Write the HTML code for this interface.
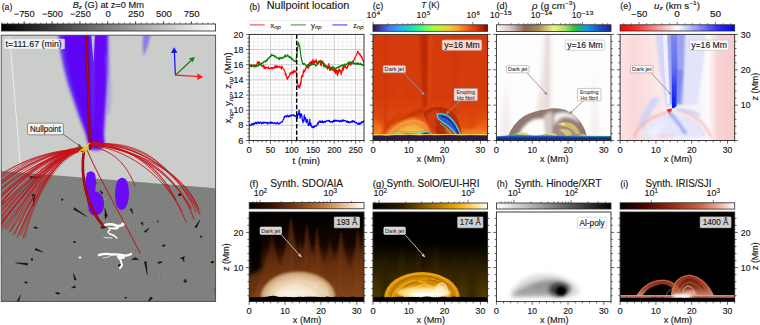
<!DOCTYPE html><html><head><meta charset="utf-8"><style>html,body{margin:0;padding:0;background:#fff;width:760px;height:325px;overflow:hidden}svg{display:block}</style></head><body>
<svg width="760" height="325" viewBox="0 0 760 325" font-family="&apos;Liberation Sans&apos;, sans-serif" style="font-family:&apos;Liberation Sans&apos;, sans-serif">
<defs>
<filter id="b03" filterUnits="userSpaceOnUse" x="0" y="0" width="760" height="325"><feGaussianBlur stdDeviation="0.3"/></filter>
<filter id="b05" filterUnits="userSpaceOnUse" x="0" y="0" width="760" height="325"><feGaussianBlur stdDeviation="0.5"/></filter>
<filter id="b1" filterUnits="userSpaceOnUse" x="0" y="0" width="760" height="325"><feGaussianBlur stdDeviation="1"/></filter>
<filter id="b15" filterUnits="userSpaceOnUse" x="0" y="0" width="760" height="325"><feGaussianBlur stdDeviation="1.5"/></filter>
<filter id="b2" filterUnits="userSpaceOnUse" x="0" y="0" width="760" height="325"><feGaussianBlur stdDeviation="2"/></filter>
<filter id="b3" filterUnits="userSpaceOnUse" x="0" y="0" width="760" height="325"><feGaussianBlur stdDeviation="3"/></filter>
<filter id="b4" filterUnits="userSpaceOnUse" x="0" y="0" width="760" height="325"><feGaussianBlur stdDeviation="4"/></filter>
<filter id="b6" filterUnits="userSpaceOnUse" x="0" y="0" width="760" height="325"><feGaussianBlur stdDeviation="6"/></filter>
</defs>
<text x="1.7" y="9.8" font-size="8.2" text-anchor="start" fill="#1a1a1a" stroke="#1a1a1a" stroke-width="0.15" textLength="10.6" lengthAdjust="spacingAndGlyphs" >(a)</text>
<text x="72.7" y="7.8" font-size="8.2" fill="#1a1a1a" stroke="#1a1a1a" stroke-width="0.15" textLength="71.2" lengthAdjust="spacingAndGlyphs"><tspan font-style="italic">B</tspan><tspan font-size="5.5" font-style="italic" dy="1.5">z</tspan><tspan dy="-1.5"> (G) at z=0 Mm</tspan></text>
<text x="24.2" y="16.8" font-size="9.0" text-anchor="middle" fill="#1a1a1a" stroke="#1a1a1a" stroke-width="0.15" textLength="21.0" lengthAdjust="spacingAndGlyphs" >−750</text>
<text x="52.5" y="16.8" font-size="9.0" text-anchor="middle" fill="#1a1a1a" stroke="#1a1a1a" stroke-width="0.15" textLength="21.0" lengthAdjust="spacingAndGlyphs" >−500</text>
<text x="80.4" y="16.8" font-size="9.0" text-anchor="middle" fill="#1a1a1a" stroke="#1a1a1a" stroke-width="0.15" textLength="21.0" lengthAdjust="spacingAndGlyphs" >−250</text>
<text x="108.2" y="16.8" font-size="9.0" text-anchor="middle" fill="#1a1a1a" stroke="#1a1a1a" stroke-width="0.15" textLength="5.4" lengthAdjust="spacingAndGlyphs" >0</text>
<text x="136.0" y="16.8" font-size="9.0" text-anchor="middle" fill="#1a1a1a" stroke="#1a1a1a" stroke-width="0.15" textLength="16.0" lengthAdjust="spacingAndGlyphs" >250</text>
<text x="163.9" y="16.8" font-size="9.0" text-anchor="middle" fill="#1a1a1a" stroke="#1a1a1a" stroke-width="0.15" textLength="16.0" lengthAdjust="spacingAndGlyphs" >500</text>
<text x="191.7" y="16.8" font-size="9.0" text-anchor="middle" fill="#1a1a1a" stroke="#1a1a1a" stroke-width="0.15" textLength="16.0" lengthAdjust="spacingAndGlyphs" >750</text>
<defs><linearGradient id="cba" x1="0" x2="1" y1="0" y2="0"><stop offset="0" stop-color="#000"/><stop offset="1" stop-color="#fff"/></linearGradient></defs>
<rect x="1.5" y="24.0" width="214.1" height="7.0" fill="url(#cba)" stroke="#262626" stroke-width="0.8"/>
<path d="M24.20,24.0v-3M52.05,24.0v-3M79.90,24.0v-3M107.75,24.0v-3M135.60,24.0v-3M163.45,24.0v-3M191.30,24.0v-3M1.92,24.0v-1.6M7.49,24.0v-1.6M13.06,24.0v-1.6M18.63,24.0v-1.6M24.20,24.0v-1.6M29.77,24.0v-1.6M35.34,24.0v-1.6M40.91,24.0v-1.6M46.48,24.0v-1.6M52.05,24.0v-1.6M57.62,24.0v-1.6M63.19,24.0v-1.6M68.76,24.0v-1.6M74.33,24.0v-1.6M79.90,24.0v-1.6M85.47,24.0v-1.6M91.04,24.0v-1.6M96.61,24.0v-1.6M102.18,24.0v-1.6M107.75,24.0v-1.6M113.32,24.0v-1.6M118.89,24.0v-1.6M124.46,24.0v-1.6M130.03,24.0v-1.6M135.60,24.0v-1.6M141.17,24.0v-1.6M146.74,24.0v-1.6M152.31,24.0v-1.6M157.88,24.0v-1.6M163.45,24.0v-1.6M169.02,24.0v-1.6M174.59,24.0v-1.6M180.16,24.0v-1.6M185.73,24.0v-1.6M191.30,24.0v-1.6M196.87,24.0v-1.6M202.44,24.0v-1.6M208.01,24.0v-1.6M213.58,24.0v-1.6" stroke="#262626" stroke-width="0.6" fill="none"/>
<defs><clipPath id="clipa"><rect x="1.2" y="35.2" width="214.4" height="266.2"/></clipPath></defs>
<g clip-path="url(#clipa)">
<rect x="1" y="35" width="215" height="267" fill="#cacdca"/>
<path d="M9.5,35 L20.5,168" stroke="#efefef" stroke-width="0.9" fill="none"/>
<polygon points="1,171 215.7,188.3 215.7,302 1,302" fill="#7f817e"/>
<defs><clipPath id="clipplane"><polygon points="1,171 215.7,188.3 215.7,302 1,302"/></clipPath></defs>
<g clip-path="url(#clipplane)">
<g stroke="#999a97" stroke-width="2.4" fill="none" opacity="0.3" filter="url(#b05)"><path d="M-30.1,241.0 Q-27.8,249.2 -28.9,259.1"/><path d="M-43.4,281.0 Q-37.4,269.7 -28.9,259.1"/><path d="M39.1,318.0 Q39.9,344.7 41.4,372.0"/><path d="M39.1,318.0 Q34.6,319.9 26.6,319.6"/><path d="M26.6,319.6 Q24.9,333.2 19.8,348.1"/><path d="M41.4,372.0 Q29.6,359.5 19.8,348.1"/><path d="M-25.9,355.7 Q-17.9,350.9 -8.7,347.1"/><path d="M-8.7,347.1 Q-4.8,370.5 -2.8,394.0"/><path d="M16.1,346.9 Q8.0,369.5 -2.8,394.0"/><path d="M16.1,346.9 Q5.1,338.3 -2.8,330.6"/><path d="M-8.7,347.1 Q-4.8,339.1 -2.8,330.8"/><path d="M-2.8,330.8 Q-1.3,332.2 -2.8,330.6"/><path d="M-50.5,353.3 Q-44.4,348.6 -40.4,342.1"/><path d="M-50.5,353.3 Q-38.7,354.7 -25.9,355.7"/><path d="M-18.7,313.4 Q-31.2,326.3 -40.4,342.1"/><path d="M241.3,377.0 Q259.6,360.5 276.5,346.3"/><path d="M-50.0,190.9 Q-33.1,180.7 -17.5,168.8"/><path d="M41.4,372.0 Q43.7,378.8 49.5,387.0"/><path d="M19.8,348.1 Q15.9,348.3 16.1,346.9"/><path d="M39.1,318.0 Q39.4,317.7 40.2,316.2"/><path d="M40.2,316.2 Q47.6,319.0 52.0,320.2"/><path d="M62.8,344.6 Q56.5,332.1 52.0,320.2"/><path d="M62.8,344.6 Q58.8,357.4 57.4,371.6"/><path d="M49.5,387.0 Q55.0,378.8 57.4,371.6"/><path d="M125.8,297.8 Q134.4,305.5 139.2,311.8"/><path d="M139.2,311.8 Q140.7,319.0 141.5,326.1"/><path d="M112.6,319.3 Q110.6,331.3 111.6,340.4"/><path d="M141.5,326.1 Q138.1,337.6 131.0,347.9"/><path d="M131.0,347.9 Q121.8,343.6 111.6,340.4"/><path d="M26.0,282.4 Q27.3,272.2 27.6,264.3"/><path d="M26.0,282.4 Q20.5,292.1 17.3,302.9"/><path d="M27.6,264.3 Q12.9,262.2 -1.4,260.5"/><path d="M-1.4,260.5 Q-7.9,282.8 -11.3,304.8"/><path d="M17.3,302.9 Q7.7,309.8 -5.7,313.6"/><path d="M-5.7,313.6 Q-8.0,310.4 -11.2,304.9"/><path d="M-11.3,304.8 Q-9.7,304.7 -11.2,304.9"/><path d="M40.0,311.1 Q46.6,300.6 51.8,290.6"/><path d="M40.0,311.1 Q31.4,297.7 26.0,282.4"/><path d="M51.8,290.6 Q40.5,276.4 31.9,259.5"/><path d="M31.9,259.5 Q28.6,261.6 27.6,264.3"/><path d="M26.6,319.6 Q20.7,311.1 17.3,302.9"/><path d="M40.2,316.2 Q41.3,313.3 40.0,311.1"/><path d="M-43.4,281.0 Q-27.9,293.3 -11.3,304.8"/><path d="M-28.9,259.1 Q-15.6,257.3 -4.4,254.3"/><path d="M-18.7,313.4 Q-15.5,309.6 -11.2,304.9"/><path d="M51.8,290.6 Q52.9,293.1 57.7,293.3"/><path d="M52.0,320.2 Q56.0,315.3 56.5,309.5"/><path d="M62.8,344.6 Q67.6,335.3 74.2,326.8"/><path d="M56.5,309.5 Q64.1,317.8 74.2,326.8"/><path d="M96.9,342.8 Q89.0,332.3 80.8,320.1"/><path d="M96.9,342.8 Q93.8,349.9 91.3,359.3"/><path d="M91.3,359.3 Q72.6,364.6 57.4,371.6"/><path d="M74.2,326.8 Q75.7,323.9 80.8,320.1"/><path d="M-4.4,254.3 Q-7.3,244.7 -7.3,234.8"/><path d="M-7.3,234.8 Q-15.7,233.8 -21.8,231.0"/><path d="M26.6,171.2 Q28.7,171.0 27.9,172.1"/><path d="M26.6,171.2 Q18.3,170.6 10.5,168.2"/><path d="M27.9,172.1 Q13.5,186.9 -3.9,202.1"/><path d="M10.5,168.2 Q-0.7,168.5 -15.3,170.1"/><path d="M-15.3,170.1 Q-10.9,185.9 -3.9,202.1"/><path d="M28.2,172.2 Q27.5,173.6 27.9,172.1"/><path d="M28.2,172.2 Q43.1,171.0 60.5,171.2"/><path d="M-17.5,168.8 Q-16.8,169.7 -15.3,170.1"/><path d="M120.0,375.6 Q116.7,358.9 111.1,344.4"/><path d="M96.9,342.8 Q103.6,342.8 111.0,341.0"/><path d="M111.0,341.0 Q111.2,342.4 111.1,344.4"/><path d="M130.3,362.9 Q131.3,356.5 131.9,350.7"/><path d="M131.9,350.7 Q140.5,357.0 148.3,364.8"/><path d="M131.0,347.9 Q130.9,348.7 131.9,350.7"/><path d="M111.0,341.0 Q110.5,342.0 111.6,340.4"/><path d="M120.0,375.6 Q123.9,369.1 130.3,362.9"/><path d="M125.8,297.8 Q124.1,281.5 120.2,265.2"/><path d="M139.2,311.8 Q144.4,305.9 151.2,298.1"/><path d="M135.0,258.5 Q127.3,262.9 120.2,265.2"/><path d="M135.0,258.5 Q138.5,259.4 145.3,261.7"/><path d="M151.2,298.1 Q149.9,281.4 145.3,261.7"/><path d="M253.8,268.1 Q252.0,266.3 249.3,262.5"/><path d="M249.3,262.5 Q250.8,239.6 250.9,219.4"/><path d="M57.7,293.3 Q64.5,289.4 75.2,286.5"/><path d="M80.8,320.1 Q81.0,314.9 81.4,307.7"/><path d="M75.2,286.5 Q77.1,298.3 81.4,307.7"/><path d="M112.6,319.3 Q106.2,310.3 100.6,304.0"/><path d="M81.4,307.7 Q89.6,305.6 100.6,304.0"/><path d="M-2.8,218.0 Q-1.8,211.5 -3.9,202.9"/><path d="M-2.9,218.3 Q-20.2,210.0 -38.5,202.2"/><path d="M35.4,249.2 Q32.5,253.1 31.9,259.5"/><path d="M35.4,249.2 Q35.9,237.5 35.5,227.7"/><path d="M33.7,222.3 Q13.8,219.1 -2.8,218.0"/><path d="M-21.8,231.0 Q-29.7,216.6 -38.5,202.2"/><path d="M-50.0,190.9 Q-46.4,196.2 -41.6,198.7"/><path d="M-3.9,202.1 Q-3.2,203.1 -3.9,202.9"/><path d="M141.5,326.1 Q144.4,328.5 148.5,329.7"/><path d="M148.3,364.8 Q150.2,364.0 155.6,363.2"/><path d="M148.5,329.7 Q151.9,346.9 155.6,363.2"/><path d="M151.2,298.1 Q155.7,301.1 163.4,301.9"/><path d="M174.6,323.6 Q171.9,318.8 170.3,314.8"/><path d="M174.6,323.6 Q172.8,327.8 172.2,329.1"/><path d="M170.3,314.8 Q166.3,309.4 163.4,301.9"/><path d="M148.5,329.7 Q161.7,330.3 172.2,329.1"/><path d="M212.3,262.1 Q221.7,257.1 232.5,251.3"/><path d="M212.3,262.1 Q215.3,285.4 217.1,308.3"/><path d="M249.3,262.5 Q240.8,258.2 234.0,251.6"/><path d="M217.1,308.3 Q221.6,315.4 226.9,319.8"/><path d="M232.5,251.3 Q235.1,251.5 234.0,251.6"/><path d="M60.2,195.4 Q46.1,193.8 33.7,195.2"/><path d="M60.2,195.4 Q60.8,189.2 63.8,181.8"/><path d="M62.1,177.3 Q64.1,180.4 63.8,181.8"/><path d="M62.1,177.3 Q44.9,177.0 30.0,177.3"/><path d="M35.5,227.7 Q46.7,226.7 54.7,224.2"/><path d="M33.7,222.3 Q31.8,209.6 33.7,195.2"/><path d="M54.7,224.2 Q60.3,212.3 62.4,200.2"/><path d="M62.4,200.2 Q62.2,196.8 60.2,195.4"/><path d="M62.4,200.2 Q67.1,204.8 74.0,207.9"/><path d="M79.7,186.9 Q78.7,197.4 74.0,207.9"/><path d="M79.7,186.9 Q72.4,183.4 63.8,181.8"/><path d="M28.2,172.2 Q30.3,173.5 30.0,177.3"/><path d="M63.6,172.0 Q62.0,175.5 62.1,177.3"/><path d="M103.4,232.4 Q104.5,229.6 103.5,227.2"/><path d="M103.5,227.2 Q89.9,217.0 74.1,208.5"/><path d="M74.1,208.5 Q71.8,219.6 68.6,228.6"/><path d="M74.5,242.1 Q73.3,235.8 68.6,228.6"/><path d="M54.7,224.2 Q63.3,225.7 68.6,228.6"/><path d="M74.0,207.9 Q72.2,208.2 74.1,208.5"/><path d="M35.4,249.2 Q51.4,254.8 70.2,262.7"/><path d="M70.2,262.7 Q72.5,252.5 74.5,242.1"/><path d="M140.8,186.8 Q130.5,184.8 116.8,180.7"/><path d="M131.0,209.0 Q119.4,213.4 106.1,215.4"/><path d="M106.1,215.4 Q102.9,205.8 102.2,193.6"/><path d="M140.8,186.8 Q141.7,186.4 143.4,184.1"/><path d="M143.4,184.1 Q143.6,182.2 144.8,181.2"/><path d="M86.9,179.7 Q90.2,180.7 96.1,183.3"/><path d="M86.9,179.7 Q83.3,175.2 77.8,172.4"/><path d="M77.8,172.4 Q79.3,171.0 78.7,171.5"/><path d="M99.4,176.5 Q97.5,181.0 96.1,183.3"/><path d="M106.1,215.4 Q105.2,222.4 103.5,227.2"/><path d="M79.7,186.9 Q84.6,184.5 86.9,179.7"/><path d="M102.2,193.6 Q100.6,187.3 96.1,183.3"/><path d="M63.6,172.0 Q71.8,172.7 77.8,172.4"/><path d="M158.0,221.2 Q151.4,201.6 143.4,184.1"/><path d="M180.9,215.3 Q173.6,223.4 165.8,229.7"/><path d="M180.9,215.3 Q180.2,205.0 179.7,194.7"/><path d="M179.7,194.7 Q172.0,188.1 162.5,181.4"/><path d="M75.3,279.8 Q90.0,263.2 107.8,246.1"/><path d="M75.3,279.8 Q73.5,283.2 75.5,284.2"/><path d="M75.5,284.2 Q89.5,281.9 105.7,281.1"/><path d="M118.9,264.4 Q115.4,256.3 107.8,246.1"/><path d="M70.2,262.7 Q73.4,272.3 75.3,279.8"/><path d="M103.4,232.4 Q106.5,240.5 107.8,246.1"/><path d="M75.2,286.5 Q73.7,285.1 75.5,284.2"/><path d="M100.6,304.0 Q102.5,291.8 105.7,281.1"/><path d="M120.2,265.2 Q119.4,265.6 118.9,264.4"/><path d="M131.0,209.0 Q133.7,216.2 135.2,221.3"/><path d="M135.2,221.3 Q136.1,237.4 135.3,253.4"/><path d="M154.7,222.2 Q151.6,228.5 145.1,232.0"/><path d="M154.7,222.2 Q146.7,223.0 141.8,222.6"/><path d="M141.8,222.6 Q144.7,228.6 145.1,232.0"/><path d="M158.0,221.2 Q156.8,221.7 154.7,222.2"/><path d="M135.3,253.4 Q140.6,241.3 145.1,232.0"/><path d="M176.5,282.1 Q175.3,281.3 172.9,281.8"/><path d="M185.2,281.4 Q185.8,279.8 185.5,279.8"/><path d="M185.5,279.8 Q172.9,266.5 160.9,252.0"/><path d="M160.0,262.4 Q158.3,259.0 157.9,256.7"/><path d="M157.9,256.7 Q158.6,254.5 160.9,252.0"/><path d="M170.3,314.8 Q175.3,297.1 176.5,282.1"/><path d="M163.4,301.9 Q163.4,302.8 163.6,300.7"/><path d="M174.6,323.6 Q181.4,320.2 185.2,319.1"/><path d="M191.1,311.0 Q187.0,314.2 185.2,319.1"/><path d="M191.1,311.0 Q188.0,296.8 185.2,281.4"/><path d="M191.1,311.0 Q204.1,309.3 217.1,308.3"/><path d="M188.0,273.3 Q198.2,268.4 210.9,260.8"/><path d="M188.0,273.3 Q185.0,278.0 185.5,279.8"/><path d="M163.8,245.6 Q174.5,251.8 182.7,257.7"/><path d="M163.8,245.6 Q162.4,249.2 160.9,252.0"/><path d="M188.0,273.3 Q187.1,265.7 182.7,257.7"/><path d="M163.6,300.7 Q159.9,280.1 160.0,262.4"/><path d="M145.3,261.7 Q153.3,260.3 157.9,256.7"/><path d="M165.8,229.7 Q166.3,238.2 163.8,245.6"/><path d="M241.3,377.0 Q239.6,378.8 236.2,378.3"/><path d="M276.5,346.3 Q256.2,337.6 233.6,326.7"/><path d="M236.2,378.3 Q236.0,353.3 233.6,326.7"/><path d="M185.2,319.1 Q189.9,328.8 194.5,341.5"/><path d="M194.5,341.5 Q205.4,347.2 213.6,352.4"/><path d="M226.9,319.8 Q226.6,320.6 227.0,320.1"/><path d="M213.6,352.4 Q220.5,337.5 227.0,320.1"/><path d="M233.6,326.7 Q231.8,322.4 227.0,320.1"/><path d="M171.9,340.8 Q168.9,346.4 168.7,351.2"/><path d="M171.9,340.8 Q177.0,347.0 183.6,355.2"/><path d="M168.7,351.2 Q172.8,361.9 177.4,369.8"/><path d="M183.6,355.2 Q182.7,363.1 182.3,370.1"/><path d="M194.5,341.5 Q191.2,350.7 191.7,358.4"/><path d="M172.2,329.1 Q172.9,336.1 171.9,340.8"/><path d="M191.7,358.4 Q186.8,356.4 183.6,355.2"/><path d="M191.7,358.4 Q193.7,359.7 192.2,359.4"/><path d="M192.2,359.4 Q190.1,366.0 185.9,373.4"/><path d="M185.9,373.4 Q185.0,371.9 182.3,370.1"/><path d="M157.0,363.6 Q158.8,363.2 160.8,361.8"/><path d="M160.8,361.8 Q166.2,373.3 173.1,384.7"/><path d="M155.6,363.2 Q155.6,364.3 157.0,363.6"/><path d="M168.7,351.2 Q164.5,357.3 160.8,361.8"/><path d="M177.4,369.8 Q174.6,376.5 173.1,384.7"/><path d="M232.5,251.3 Q228.8,236.4 223.6,219.6"/><path d="M223.6,219.6 Q213.6,228.6 201.5,237.1"/><path d="M191.2,184.2 Q192.7,182.0 195.8,182.0"/><path d="M191.2,184.2 Q200.1,194.2 208.0,205.1"/><path d="M195.8,182.0 Q206.4,188.1 220.8,196.9"/><path d="M180.9,215.3 Q189.1,221.3 195.6,227.5"/><path d="M208.0,205.1 Q201.1,217.2 195.6,227.5"/><path d="M182.7,257.7 Q190.2,244.8 196.8,230.3"/><path d="M201.5,237.1 Q200.5,233.6 196.8,230.3"/><path d="M247.5,215.0 Q243.3,216.0 241.1,217.8"/><path d="M241.1,217.8 Q232.0,210.3 224.6,205.5"/><path d="M222.2,196.9 Q224.2,200.7 224.6,205.5"/><path d="M250.9,219.4 Q250.3,218.6 247.5,215.0"/><path d="M234.0,251.6 Q238.0,235.7 241.1,217.8"/><path d="M223.6,219.6 Q222.8,211.3 224.6,205.5"/><path d="M220.8,196.9 Q223.1,196.8 222.2,196.9"/><path d="M195.9,181.6 Q181.7,179.6 166.9,178.3"/><path d="M162.5,181.4 Q164.1,180.6 166.9,178.3"/><path d="M195.8,182.0 Q197.1,181.5 195.9,181.6"/><path d="M194.9,361.9 Q193.0,378.5 192.9,397.4"/><path d="M194.9,361.9 Q205.3,364.7 212.4,365.7"/><path d="M212.4,365.7 Q217.2,385.8 218.9,403.1"/><path d="M192.2,359.4 Q192.0,360.5 194.9,361.9"/><path d="M185.9,373.4 Q188.8,384.4 192.9,397.4"/><path d="M236.2,378.3 Q225.7,390.0 218.9,403.1"/></g>
<g stroke="#5e605d" stroke-width="0.8" fill="none" opacity="0.45" filter="url(#b03)"><path d="M-30.1,241.0 Q-27.8,249.2 -28.9,259.1"/><path d="M-43.4,281.0 Q-37.4,269.7 -28.9,259.1"/><path d="M39.1,318.0 Q39.9,344.7 41.4,372.0"/><path d="M39.1,318.0 Q34.6,319.9 26.6,319.6"/><path d="M26.6,319.6 Q24.9,333.2 19.8,348.1"/><path d="M41.4,372.0 Q29.6,359.5 19.8,348.1"/><path d="M-25.9,355.7 Q-17.9,350.9 -8.7,347.1"/><path d="M-8.7,347.1 Q-4.8,370.5 -2.8,394.0"/><path d="M16.1,346.9 Q8.0,369.5 -2.8,394.0"/><path d="M16.1,346.9 Q5.1,338.3 -2.8,330.6"/><path d="M-8.7,347.1 Q-4.8,339.1 -2.8,330.8"/><path d="M-2.8,330.8 Q-1.3,332.2 -2.8,330.6"/><path d="M-50.5,353.3 Q-44.4,348.6 -40.4,342.1"/><path d="M-50.5,353.3 Q-38.7,354.7 -25.9,355.7"/><path d="M-18.7,313.4 Q-31.2,326.3 -40.4,342.1"/><path d="M241.3,377.0 Q259.6,360.5 276.5,346.3"/><path d="M-50.0,190.9 Q-33.1,180.7 -17.5,168.8"/><path d="M41.4,372.0 Q43.7,378.8 49.5,387.0"/><path d="M19.8,348.1 Q15.9,348.3 16.1,346.9"/><path d="M39.1,318.0 Q39.4,317.7 40.2,316.2"/><path d="M40.2,316.2 Q47.6,319.0 52.0,320.2"/><path d="M62.8,344.6 Q56.5,332.1 52.0,320.2"/><path d="M62.8,344.6 Q58.8,357.4 57.4,371.6"/><path d="M49.5,387.0 Q55.0,378.8 57.4,371.6"/><path d="M125.8,297.8 Q134.4,305.5 139.2,311.8"/><path d="M139.2,311.8 Q140.7,319.0 141.5,326.1"/><path d="M112.6,319.3 Q110.6,331.3 111.6,340.4"/><path d="M141.5,326.1 Q138.1,337.6 131.0,347.9"/><path d="M131.0,347.9 Q121.8,343.6 111.6,340.4"/><path d="M26.0,282.4 Q27.3,272.2 27.6,264.3"/><path d="M26.0,282.4 Q20.5,292.1 17.3,302.9"/><path d="M27.6,264.3 Q12.9,262.2 -1.4,260.5"/><path d="M-1.4,260.5 Q-7.9,282.8 -11.3,304.8"/><path d="M17.3,302.9 Q7.7,309.8 -5.7,313.6"/><path d="M-5.7,313.6 Q-8.0,310.4 -11.2,304.9"/><path d="M-11.3,304.8 Q-9.7,304.7 -11.2,304.9"/><path d="M40.0,311.1 Q46.6,300.6 51.8,290.6"/><path d="M40.0,311.1 Q31.4,297.7 26.0,282.4"/><path d="M51.8,290.6 Q40.5,276.4 31.9,259.5"/><path d="M31.9,259.5 Q28.6,261.6 27.6,264.3"/><path d="M26.6,319.6 Q20.7,311.1 17.3,302.9"/><path d="M40.2,316.2 Q41.3,313.3 40.0,311.1"/><path d="M-43.4,281.0 Q-27.9,293.3 -11.3,304.8"/><path d="M-28.9,259.1 Q-15.6,257.3 -4.4,254.3"/><path d="M-18.7,313.4 Q-15.5,309.6 -11.2,304.9"/><path d="M51.8,290.6 Q52.9,293.1 57.7,293.3"/><path d="M52.0,320.2 Q56.0,315.3 56.5,309.5"/><path d="M62.8,344.6 Q67.6,335.3 74.2,326.8"/><path d="M56.5,309.5 Q64.1,317.8 74.2,326.8"/><path d="M96.9,342.8 Q89.0,332.3 80.8,320.1"/><path d="M96.9,342.8 Q93.8,349.9 91.3,359.3"/><path d="M91.3,359.3 Q72.6,364.6 57.4,371.6"/><path d="M74.2,326.8 Q75.7,323.9 80.8,320.1"/><path d="M-4.4,254.3 Q-7.3,244.7 -7.3,234.8"/><path d="M-7.3,234.8 Q-15.7,233.8 -21.8,231.0"/><path d="M26.6,171.2 Q28.7,171.0 27.9,172.1"/><path d="M26.6,171.2 Q18.3,170.6 10.5,168.2"/><path d="M27.9,172.1 Q13.5,186.9 -3.9,202.1"/><path d="M10.5,168.2 Q-0.7,168.5 -15.3,170.1"/><path d="M-15.3,170.1 Q-10.9,185.9 -3.9,202.1"/><path d="M28.2,172.2 Q27.5,173.6 27.9,172.1"/><path d="M28.2,172.2 Q43.1,171.0 60.5,171.2"/><path d="M-17.5,168.8 Q-16.8,169.7 -15.3,170.1"/><path d="M120.0,375.6 Q116.7,358.9 111.1,344.4"/><path d="M96.9,342.8 Q103.6,342.8 111.0,341.0"/><path d="M111.0,341.0 Q111.2,342.4 111.1,344.4"/><path d="M130.3,362.9 Q131.3,356.5 131.9,350.7"/><path d="M131.9,350.7 Q140.5,357.0 148.3,364.8"/><path d="M131.0,347.9 Q130.9,348.7 131.9,350.7"/><path d="M111.0,341.0 Q110.5,342.0 111.6,340.4"/><path d="M120.0,375.6 Q123.9,369.1 130.3,362.9"/><path d="M125.8,297.8 Q124.1,281.5 120.2,265.2"/><path d="M139.2,311.8 Q144.4,305.9 151.2,298.1"/><path d="M135.0,258.5 Q127.3,262.9 120.2,265.2"/><path d="M135.0,258.5 Q138.5,259.4 145.3,261.7"/><path d="M151.2,298.1 Q149.9,281.4 145.3,261.7"/><path d="M253.8,268.1 Q252.0,266.3 249.3,262.5"/><path d="M249.3,262.5 Q250.8,239.6 250.9,219.4"/><path d="M57.7,293.3 Q64.5,289.4 75.2,286.5"/><path d="M80.8,320.1 Q81.0,314.9 81.4,307.7"/><path d="M75.2,286.5 Q77.1,298.3 81.4,307.7"/><path d="M112.6,319.3 Q106.2,310.3 100.6,304.0"/><path d="M81.4,307.7 Q89.6,305.6 100.6,304.0"/><path d="M-2.8,218.0 Q-1.8,211.5 -3.9,202.9"/><path d="M-2.9,218.3 Q-20.2,210.0 -38.5,202.2"/><path d="M35.4,249.2 Q32.5,253.1 31.9,259.5"/><path d="M35.4,249.2 Q35.9,237.5 35.5,227.7"/><path d="M33.7,222.3 Q13.8,219.1 -2.8,218.0"/><path d="M-21.8,231.0 Q-29.7,216.6 -38.5,202.2"/><path d="M-50.0,190.9 Q-46.4,196.2 -41.6,198.7"/><path d="M-3.9,202.1 Q-3.2,203.1 -3.9,202.9"/><path d="M141.5,326.1 Q144.4,328.5 148.5,329.7"/><path d="M148.3,364.8 Q150.2,364.0 155.6,363.2"/><path d="M148.5,329.7 Q151.9,346.9 155.6,363.2"/><path d="M151.2,298.1 Q155.7,301.1 163.4,301.9"/><path d="M174.6,323.6 Q171.9,318.8 170.3,314.8"/><path d="M174.6,323.6 Q172.8,327.8 172.2,329.1"/><path d="M170.3,314.8 Q166.3,309.4 163.4,301.9"/><path d="M148.5,329.7 Q161.7,330.3 172.2,329.1"/><path d="M212.3,262.1 Q221.7,257.1 232.5,251.3"/><path d="M212.3,262.1 Q215.3,285.4 217.1,308.3"/><path d="M249.3,262.5 Q240.8,258.2 234.0,251.6"/><path d="M217.1,308.3 Q221.6,315.4 226.9,319.8"/><path d="M232.5,251.3 Q235.1,251.5 234.0,251.6"/><path d="M60.2,195.4 Q46.1,193.8 33.7,195.2"/><path d="M60.2,195.4 Q60.8,189.2 63.8,181.8"/><path d="M62.1,177.3 Q64.1,180.4 63.8,181.8"/><path d="M62.1,177.3 Q44.9,177.0 30.0,177.3"/><path d="M35.5,227.7 Q46.7,226.7 54.7,224.2"/><path d="M33.7,222.3 Q31.8,209.6 33.7,195.2"/><path d="M54.7,224.2 Q60.3,212.3 62.4,200.2"/><path d="M62.4,200.2 Q62.2,196.8 60.2,195.4"/><path d="M62.4,200.2 Q67.1,204.8 74.0,207.9"/><path d="M79.7,186.9 Q78.7,197.4 74.0,207.9"/><path d="M79.7,186.9 Q72.4,183.4 63.8,181.8"/><path d="M28.2,172.2 Q30.3,173.5 30.0,177.3"/><path d="M63.6,172.0 Q62.0,175.5 62.1,177.3"/><path d="M103.4,232.4 Q104.5,229.6 103.5,227.2"/><path d="M103.5,227.2 Q89.9,217.0 74.1,208.5"/><path d="M74.1,208.5 Q71.8,219.6 68.6,228.6"/><path d="M74.5,242.1 Q73.3,235.8 68.6,228.6"/><path d="M54.7,224.2 Q63.3,225.7 68.6,228.6"/><path d="M74.0,207.9 Q72.2,208.2 74.1,208.5"/><path d="M35.4,249.2 Q51.4,254.8 70.2,262.7"/><path d="M70.2,262.7 Q72.5,252.5 74.5,242.1"/><path d="M140.8,186.8 Q130.5,184.8 116.8,180.7"/><path d="M131.0,209.0 Q119.4,213.4 106.1,215.4"/><path d="M106.1,215.4 Q102.9,205.8 102.2,193.6"/><path d="M140.8,186.8 Q141.7,186.4 143.4,184.1"/><path d="M143.4,184.1 Q143.6,182.2 144.8,181.2"/><path d="M86.9,179.7 Q90.2,180.7 96.1,183.3"/><path d="M86.9,179.7 Q83.3,175.2 77.8,172.4"/><path d="M77.8,172.4 Q79.3,171.0 78.7,171.5"/><path d="M99.4,176.5 Q97.5,181.0 96.1,183.3"/><path d="M106.1,215.4 Q105.2,222.4 103.5,227.2"/><path d="M79.7,186.9 Q84.6,184.5 86.9,179.7"/><path d="M102.2,193.6 Q100.6,187.3 96.1,183.3"/><path d="M63.6,172.0 Q71.8,172.7 77.8,172.4"/><path d="M158.0,221.2 Q151.4,201.6 143.4,184.1"/><path d="M180.9,215.3 Q173.6,223.4 165.8,229.7"/><path d="M180.9,215.3 Q180.2,205.0 179.7,194.7"/><path d="M179.7,194.7 Q172.0,188.1 162.5,181.4"/><path d="M75.3,279.8 Q90.0,263.2 107.8,246.1"/><path d="M75.3,279.8 Q73.5,283.2 75.5,284.2"/><path d="M75.5,284.2 Q89.5,281.9 105.7,281.1"/><path d="M118.9,264.4 Q115.4,256.3 107.8,246.1"/><path d="M70.2,262.7 Q73.4,272.3 75.3,279.8"/><path d="M103.4,232.4 Q106.5,240.5 107.8,246.1"/><path d="M75.2,286.5 Q73.7,285.1 75.5,284.2"/><path d="M100.6,304.0 Q102.5,291.8 105.7,281.1"/><path d="M120.2,265.2 Q119.4,265.6 118.9,264.4"/><path d="M131.0,209.0 Q133.7,216.2 135.2,221.3"/><path d="M135.2,221.3 Q136.1,237.4 135.3,253.4"/><path d="M154.7,222.2 Q151.6,228.5 145.1,232.0"/><path d="M154.7,222.2 Q146.7,223.0 141.8,222.6"/><path d="M141.8,222.6 Q144.7,228.6 145.1,232.0"/><path d="M158.0,221.2 Q156.8,221.7 154.7,222.2"/><path d="M135.3,253.4 Q140.6,241.3 145.1,232.0"/><path d="M176.5,282.1 Q175.3,281.3 172.9,281.8"/><path d="M185.2,281.4 Q185.8,279.8 185.5,279.8"/><path d="M185.5,279.8 Q172.9,266.5 160.9,252.0"/><path d="M160.0,262.4 Q158.3,259.0 157.9,256.7"/><path d="M157.9,256.7 Q158.6,254.5 160.9,252.0"/><path d="M170.3,314.8 Q175.3,297.1 176.5,282.1"/><path d="M163.4,301.9 Q163.4,302.8 163.6,300.7"/><path d="M174.6,323.6 Q181.4,320.2 185.2,319.1"/><path d="M191.1,311.0 Q187.0,314.2 185.2,319.1"/><path d="M191.1,311.0 Q188.0,296.8 185.2,281.4"/><path d="M191.1,311.0 Q204.1,309.3 217.1,308.3"/><path d="M188.0,273.3 Q198.2,268.4 210.9,260.8"/><path d="M188.0,273.3 Q185.0,278.0 185.5,279.8"/><path d="M163.8,245.6 Q174.5,251.8 182.7,257.7"/><path d="M163.8,245.6 Q162.4,249.2 160.9,252.0"/><path d="M188.0,273.3 Q187.1,265.7 182.7,257.7"/><path d="M163.6,300.7 Q159.9,280.1 160.0,262.4"/><path d="M145.3,261.7 Q153.3,260.3 157.9,256.7"/><path d="M165.8,229.7 Q166.3,238.2 163.8,245.6"/><path d="M241.3,377.0 Q239.6,378.8 236.2,378.3"/><path d="M276.5,346.3 Q256.2,337.6 233.6,326.7"/><path d="M236.2,378.3 Q236.0,353.3 233.6,326.7"/><path d="M185.2,319.1 Q189.9,328.8 194.5,341.5"/><path d="M194.5,341.5 Q205.4,347.2 213.6,352.4"/><path d="M226.9,319.8 Q226.6,320.6 227.0,320.1"/><path d="M213.6,352.4 Q220.5,337.5 227.0,320.1"/><path d="M233.6,326.7 Q231.8,322.4 227.0,320.1"/><path d="M171.9,340.8 Q168.9,346.4 168.7,351.2"/><path d="M171.9,340.8 Q177.0,347.0 183.6,355.2"/><path d="M168.7,351.2 Q172.8,361.9 177.4,369.8"/><path d="M183.6,355.2 Q182.7,363.1 182.3,370.1"/><path d="M194.5,341.5 Q191.2,350.7 191.7,358.4"/><path d="M172.2,329.1 Q172.9,336.1 171.9,340.8"/><path d="M191.7,358.4 Q186.8,356.4 183.6,355.2"/><path d="M191.7,358.4 Q193.7,359.7 192.2,359.4"/><path d="M192.2,359.4 Q190.1,366.0 185.9,373.4"/><path d="M185.9,373.4 Q185.0,371.9 182.3,370.1"/><path d="M157.0,363.6 Q158.8,363.2 160.8,361.8"/><path d="M160.8,361.8 Q166.2,373.3 173.1,384.7"/><path d="M155.6,363.2 Q155.6,364.3 157.0,363.6"/><path d="M168.7,351.2 Q164.5,357.3 160.8,361.8"/><path d="M177.4,369.8 Q174.6,376.5 173.1,384.7"/><path d="M232.5,251.3 Q228.8,236.4 223.6,219.6"/><path d="M223.6,219.6 Q213.6,228.6 201.5,237.1"/><path d="M191.2,184.2 Q192.7,182.0 195.8,182.0"/><path d="M191.2,184.2 Q200.1,194.2 208.0,205.1"/><path d="M195.8,182.0 Q206.4,188.1 220.8,196.9"/><path d="M180.9,215.3 Q189.1,221.3 195.6,227.5"/><path d="M208.0,205.1 Q201.1,217.2 195.6,227.5"/><path d="M182.7,257.7 Q190.2,244.8 196.8,230.3"/><path d="M201.5,237.1 Q200.5,233.6 196.8,230.3"/><path d="M247.5,215.0 Q243.3,216.0 241.1,217.8"/><path d="M241.1,217.8 Q232.0,210.3 224.6,205.5"/><path d="M222.2,196.9 Q224.2,200.7 224.6,205.5"/><path d="M250.9,219.4 Q250.3,218.6 247.5,215.0"/><path d="M234.0,251.6 Q238.0,235.7 241.1,217.8"/><path d="M223.6,219.6 Q222.8,211.3 224.6,205.5"/><path d="M220.8,196.9 Q223.1,196.8 222.2,196.9"/><path d="M195.9,181.6 Q181.7,179.6 166.9,178.3"/><path d="M162.5,181.4 Q164.1,180.6 166.9,178.3"/><path d="M195.8,182.0 Q197.1,181.5 195.9,181.6"/><path d="M194.9,361.9 Q193.0,378.5 192.9,397.4"/><path d="M194.9,361.9 Q205.3,364.7 212.4,365.7"/><path d="M212.4,365.7 Q217.2,385.8 218.9,403.1"/><path d="M192.2,359.4 Q192.0,360.5 194.9,361.9"/><path d="M185.9,373.4 Q188.8,384.4 192.9,397.4"/><path d="M236.2,378.3 Q225.7,390.0 218.9,403.1"/></g>
<g fill="#141414" stroke="#141414" stroke-width="0.4" filter="url(#b03)"><path d="M-1.8,394.3 L3.7,377.9 L-3.7,393.6z"/><path d="M-1.9,331.2 L-2.8,330.7 L-3.8,330.4z"/><path d="M-49.4,191.7 L-39.3,183.6 L-50.5,190.0z"/><path d="M52.3,319.3 L49.1,319.3 L51.6,321.2z"/><path d="M138.2,312.0 L140.0,317.1 L140.2,311.6z"/><path d="M111.6,319.2 L112.3,326.8 L113.6,319.3z"/><path d="M140.6,325.7 L138.7,331.8 L142.4,326.6z"/><path d="M131.4,347.0 L122.8,344.8 L130.6,348.9z"/><path d="M18.2,303.3 L20.7,294.8 L16.3,302.5z"/><path d="M27.7,263.3 L15.6,262.8 L27.4,265.3z"/><path d="M-2.4,260.3 L-5.8,280.0 L-0.5,260.8z"/><path d="M-5.2,314.5 L3.3,309.4 L-6.1,312.7z"/><path d="M40.9,311.6 L42.8,306.2 L39.2,310.6z"/><path d="M-44.0,281.9 L-29.7,291.1 L-42.8,280.2z"/><path d="M-17.9,314.1 L-16.2,310.6 L-19.4,312.8z"/><path d="M58.1,292.4 L56.3,292.7 L57.3,294.2z"/><path d="M55.6,309.1 L55.2,312.6 L57.5,309.9z"/><path d="M63.6,345.1 L65.7,340.0 L62.0,344.0z"/><path d="M97.7,342.2 L89.8,332.8 L96.1,343.4z"/><path d="M96.0,342.5 L94.4,350.0 L97.9,343.1z"/><path d="M121.0,375.3 L117.5,366.6 L119.0,375.8z"/><path d="M110.9,340.0 L107.2,341.5 L111.2,342.0z"/><path d="M131.3,351.5 L137.6,355.6 L132.6,350.0z"/><path d="M132.9,350.4 L131.6,349.8 L131.0,351.0z"/><path d="M110.9,339.7 L111.4,340.6 L112.3,341.2z"/><path d="M150.5,297.4 L147.0,302.8 L152.0,298.8z"/><path d="M134.6,257.6 L131.5,260.0 L135.4,259.4z"/><path d="M134.7,259.4 L138.9,259.7 L135.3,257.5z"/><path d="M144.3,261.9 L147.3,274.4 L146.3,261.6z"/><path d="M249.9,219.3 L250.3,235.6 L251.9,219.4z"/><path d="M74.8,285.6 L71.5,288.0 L75.5,287.5z"/><path d="M156.6,363.0 L152.8,349.9 L154.7,363.4z"/><path d="M173.7,323.2 L173.9,325.2 L175.5,323.9z"/><path d="M171.2,314.3 L168.0,310.6 L169.4,315.3z"/><path d="M218.1,308.2 L215.0,288.3 L216.1,308.4z"/><path d="M30.0,178.3 L41.4,177.3 L30.0,176.3z"/><path d="M32.7,195.2 L33.7,205.8 L34.7,195.2z"/><path d="M63.3,199.7 L61.6,198.3 L61.5,200.6z"/><path d="M73.6,209.4 L86.7,216.5 L74.6,207.7z"/><path d="M35.0,250.1 L43.1,252.2 L35.8,248.2z"/><path d="M107.1,215.3 L104.8,208.3 L105.1,215.6z"/><path d="M143.9,180.8 L144.4,182.1 L145.7,181.6z"/><path d="M96.5,182.4 L92.5,181.9 L95.7,184.2z"/><path d="M105.1,215.2 L105.2,219.2 L107.0,215.7z"/><path d="M103.1,193.1 L100.0,189.9 L101.4,194.1z"/><path d="M161.9,182.2 L168.5,186.0 L163.1,180.6z"/><path d="M76.3,279.5 L73.3,273.2 L74.4,280.1z"/><path d="M130.0,209.3 L132.7,214.1 L131.9,208.7z"/><path d="M145.8,232.7 L149.0,228.1 L144.4,231.3z"/><path d="M140.9,222.9 L142.8,225.4 L142.8,222.3z"/><path d="M157.7,220.2 L157.3,221.4 L158.3,222.2z"/><path d="M184.5,279.6 L185.4,280.2 L186.5,279.9z"/><path d="M181.8,258.1 L184.2,262.0 L183.7,257.4z"/><path d="M276.9,345.4 L260.2,338.8 L276.1,347.2z"/><path d="M195.4,341.1 L191.7,334.7 L193.5,341.9z"/><path d="M194.0,342.4 L199.7,344.5 L195.0,340.6z"/><path d="M226.0,320.1 L226.9,319.9 L227.9,319.5z"/><path d="M234.3,326.0 L231.3,324.4 L232.9,327.4z"/><path d="M170.9,340.5 L170.7,344.6 L172.8,341.1z"/><path d="M182.6,355.1 L183.1,360.6 L184.6,355.3z"/><path d="M171.2,329.1 L172.1,333.3 L173.2,329.2z"/><path d="M190.8,358.7 L191.8,358.6 L192.7,358.0z"/><path d="M160.3,360.9 L159.3,362.5 L161.2,362.7z"/><path d="M174.0,384.3 L170.1,379.2 L172.2,385.2z"/><path d="M167.9,350.6 L166.5,354.1 L169.5,351.8z"/><path d="M223.0,218.8 L216.5,225.3 L224.3,220.4z"/><path d="M191.7,185.1 L193.2,183.3 L190.8,183.3z"/><path d="M196.5,228.0 L199.9,219.9 L194.8,227.0z"/><path d="M202.3,236.6 L200.5,235.7 L200.7,237.7z"/><path d="M241.7,217.0 L237.0,214.8 L240.5,218.6z"/><path d="M251.7,218.8 L249.7,217.9 L250.1,220.0z"/><path d="M166.3,177.5 L165.1,179.6 L167.5,179.1z"/></g>
<g fill="#121212" filter="url(#b03)"><ellipse cx="39.1" cy="318.0" rx="2.5" ry="0.9" transform="rotate(21 39.1 318.0)"/><ellipse cx="125.8" cy="297.8" rx="1.3" ry="0.7" transform="rotate(2 125.8 297.8)"/><ellipse cx="40.0" cy="311.1" rx="1.3" ry="0.8" transform="rotate(2 40.0 311.1)"/><ellipse cx="31.9" cy="259.5" rx="1.2" ry="1.2" transform="rotate(-2 31.9 259.5)"/><ellipse cx="212.3" cy="262.1" rx="1.7" ry="1.2" transform="rotate(-5 212.3 262.1)"/><ellipse cx="26.0" cy="282.4" rx="1.7" ry="1.0" transform="rotate(3 26.0 282.4)"/><ellipse cx="17.3" cy="302.9" rx="2.1" ry="1.2" transform="rotate(-18 17.3 302.9)"/><ellipse cx="57.7" cy="293.3" rx="2.5" ry="0.7" transform="rotate(10 57.7 293.3)"/><ellipse cx="-7.3" cy="234.8" rx="2.7" ry="1.2" transform="rotate(13 -7.3 234.8)"/><ellipse cx="120.2" cy="265.2" rx="2.3" ry="1.2" transform="rotate(-5 120.2 265.2)"/><ellipse cx="151.2" cy="298.1" rx="1.7" ry="0.9" transform="rotate(23 151.2 298.1)"/><ellipse cx="35.5" cy="227.7" rx="2.2" ry="0.9" transform="rotate(11 35.5 227.7)"/><ellipse cx="106.1" cy="215.4" rx="1.5" ry="0.8" transform="rotate(12 106.1 215.4)"/><ellipse cx="81.4" cy="307.7" rx="2.7" ry="1.2" transform="rotate(-3 81.4 307.7)"/><ellipse cx="191.1" cy="311.0" rx="2.9" ry="0.9" transform="rotate(11 191.1 311.0)"/><ellipse cx="163.8" cy="245.6" rx="1.8" ry="1.0" transform="rotate(-15 163.8 245.6)"/><ellipse cx="172.2" cy="329.1" rx="1.5" ry="0.7" transform="rotate(-12 172.2 329.1)"/><ellipse cx="33.7" cy="195.2" rx="2.4" ry="0.9" transform="rotate(16 33.7 195.2)"/><ellipse cx="103.5" cy="227.2" rx="3.0" ry="1.2" transform="rotate(-9 103.5 227.2)"/><ellipse cx="74.5" cy="242.1" rx="1.6" ry="0.8" transform="rotate(18 74.5 242.1)"/><ellipse cx="179.7" cy="194.7" rx="1.5" ry="1.3" transform="rotate(-0 179.7 194.7)"/><ellipse cx="182.7" cy="257.7" rx="2.8" ry="0.7" transform="rotate(-22 182.7 257.7)"/><ellipse cx="185.2" cy="281.4" rx="1.7" ry="1.2" transform="rotate(5 185.2 281.4)"/><ellipse cx="160.0" cy="262.4" rx="2.6" ry="0.8" transform="rotate(-12 160.0 262.4)"/><ellipse cx="220.8" cy="196.9" rx="2.4" ry="0.9" transform="rotate(-2 220.8 196.9)"/></g>
</g>
<g fill="none" stroke="#fcfcfc" stroke-linecap="round" stroke-linejoin="round" filter="url(#b03)"><path d="M104,225.5 Q110,223 116,225.5 Q120,227 124,224" stroke-width="2.6"/><path d="M109,228 Q113,229 118,228" stroke-width="1.8"/><path d="M110,230 Q106,232 110,234 Q114,235 117,238" stroke-width="1.4"/><path d="M104,237.5 L112,238" stroke-width="1.0" opacity="0.8"/><path d="M99,255 Q106,253 112,254.5 Q118,254 124,255.5 Q128,256 131,254" stroke-width="2.4"/><path d="M118,256 Q121,260 122,265 Q121,267 120,268" stroke-width="2.0"/><path d="M112,255 Q108,258 103,258" stroke-width="1.0" opacity="0.7"/></g>
<g fill="#f4f4f4" filter="url(#b05)"><ellipse cx="80" cy="257.5" rx="1.6" ry="1"/><ellipse cx="123" cy="224" rx="2" ry="1.5"/><ellipse cx="121" cy="257" rx="4" ry="2.2"/></g>
<g filter="url(#b15)"><path d="M58,33 L108,33 Q109,60 107,90 Q105,118 104,134 Q105,146 102,149 Q96,152 90,149 Q87,140 85,132 Q79,118 74,102 Q62,70 58,33z" fill="#5a18f4" opacity="0.92"/></g>
<g filter="url(#b1)"><path d="M63,33 L90,33 Q90,80 92,118 Q93,135 95,146 L90,147 Q86,128 81,112 Q68,78 63,33z" fill="#5c04f4" opacity="0.9"/><path d="M95,33 L106,33 Q106,80 103,122 Q102,138 103,147 L93,147 Q95,100 95,33z" fill="#6a00f6" opacity="0.9"/><path d="M93,128 Q104,130 104,146 L91,148z" fill="#6a00f6" opacity="0.85"/></g>
<path d="M106,55 Q112,85 108,114" stroke="#8a70ee" stroke-width="3" fill="none" opacity="0.45" filter="url(#b15)"/>
<g stroke="#4a20f8" stroke-width="2" fill="none" opacity="0.35" filter="url(#b1)"><path d="M66,40 Q70,80 82,115"/><path d="M100,40 Q100,90 98,130"/></g>
<path d="M91,33 L95,33 L93.5,62z" fill="#c2bed8" filter="url(#b05)"/>
<path d="M143,33 L151,33 Q148,48 143.5,56 Q142,45 143,33z" fill="#7a60e8" opacity="0.75" filter="url(#b1)"/>
<g fill="#6a10f4" filter="url(#b05)"><path d="M87,173 q5,-4 8,1 q2,8 0,17 q8,2 9,11 q1,10 -6,13 q-6,2 -9,-4 q-2,-10 -3,-20 q-1,-12 1,-18z"/><path d="M119,179 q6,-4 9,5 q2,10 0,18 q-2,8 -7,8 q-6,-2 -6,-14 q0,-14 4,-17z"/></g>
<g fill="none" stroke-linecap="round"><path d="M83.7,148.8 C59.8,149.4 22.3,160.0 0.0,174.3" stroke="#6a0808" stroke-width="0.67" opacity="0.3"/><path d="M82.7,149.7 C60.4,147.8 18.8,159.2 0.0,176.7" stroke="#6a0808" stroke-width="0.92" opacity="0.3"/><path d="M82.6,150.7 C54.2,148.5 26.1,159.7 0.0,178.1" stroke="#6a0808" stroke-width="0.81" opacity="0.3"/><path d="M81.5,149.1 C60.0,148.8 22.5,160.4 0.0,182.4" stroke="#6a0808" stroke-width="0.80" opacity="0.3"/><path d="M82.7,148.5 C60.7,149.3 21.6,164.3 0.0,181.9" stroke="#6a0808" stroke-width="0.73" opacity="0.3"/><path d="M82.2,149.6 C57.0,148.4 25.1,164.0 0.0,183.8" stroke="#6a0808" stroke-width="0.92" opacity="0.3"/><path d="M83.6,148.7 C57.4,149.1 23.8,164.9 0.0,184.3" stroke="#6a0808" stroke-width="0.65" opacity="0.3"/><path d="M83.5,149.1 C59.6,150.1 25.3,163.0 0.0,185.6" stroke="#6a0808" stroke-width="0.74" opacity="0.3"/><path d="M81.8,150.9 C61.6,149.9 23.9,170.2 0.0,189.2" stroke="#6a0808" stroke-width="0.69" opacity="0.3"/><path d="M82.6,150.0 C57.9,147.9 23.1,167.0 0.0,189.6" stroke="#6a0808" stroke-width="0.74" opacity="0.3"/><path d="M82.5,148.8 C60.2,150.0 24.8,169.0 0.0,190.7" stroke="#6a0808" stroke-width="0.88" opacity="0.3"/><path d="M83.4,150.2 C61.5,147.8 27.9,168.5 0.0,195.1" stroke="#6a0808" stroke-width="0.79" opacity="0.3"/><path d="M83.5,147.6 C59.3,148.0 24.1,173.7 0.0,196.4" stroke="#6a0808" stroke-width="0.78" opacity="0.3"/><path d="M83.5,150.3 C60.1,148.0 24.8,171.8 0.0,197.2" stroke="#6a0808" stroke-width="0.67" opacity="0.3"/><path d="M83.1,150.3 C61.5,148.4 23.6,174.3 0.0,198.6" stroke="#6a0808" stroke-width="0.69" opacity="0.3"/><path d="M83.0,147.7 C60.3,150.7 22.3,174.3 0.0,198.9" stroke="#6a0808" stroke-width="0.89" opacity="0.3"/><path d="M82.0,147.7 C61.0,151.0 23.8,174.5 0.0,203.5" stroke="#6a0808" stroke-width="0.87" opacity="0.3"/><path d="M81.6,149.7 C60.5,150.0 23.9,172.2 0.0,204.6" stroke="#6a0808" stroke-width="0.73" opacity="0.3"/><path d="M81.2,147.0 C56.9,148.7 24.0,173.0 0.0,206.0" stroke="#6a0808" stroke-width="0.81" opacity="0.3"/><path d="M82.5,147.5 C56.7,150.4 30.6,181.7 0.0,207.2" stroke="#6a0808" stroke-width="0.72" opacity="0.3"/><path d="M83.9,150.7 C57.7,151.0 30.3,179.5 0.0,206.0" stroke="#6a0808" stroke-width="0.91" opacity="0.3"/><path d="M82.0,148.1 C55.0,151.6 23.8,181.0 0.0,207.7" stroke="#6a0808" stroke-width="0.67" opacity="0.3"/><path d="M82.5,147.7 C58.2,150.5 26.4,182.4 0.0,210.6" stroke="#6a0808" stroke-width="0.70" opacity="0.3"/><path d="M82.2,148.5 C55.7,151.8 30.8,178.3 0.0,211.6" stroke="#6a0808" stroke-width="0.76" opacity="0.3"/><path d="M82.6,148.1 C58.0,151.9 27.5,183.6 0.0,213.3" stroke="#6a0808" stroke-width="0.83" opacity="0.3"/><path d="M81.2,150.0 C61.6,151.1 27.0,184.7 0.0,217.0" stroke="#6a0808" stroke-width="0.86" opacity="0.3"/><path d="M81.5,150.9 C61.6,150.7 29.7,180.6 0.0,218.2" stroke="#6a0808" stroke-width="0.95" opacity="0.3"/><path d="M83.2,150.0 C55.5,150.4 27.2,186.0 0.0,220.5" stroke="#6a0808" stroke-width="0.68" opacity="0.3"/><path d="M82.6,148.8 C54.8,151.7 32.0,187.2 0.0,222.4" stroke="#6a0808" stroke-width="0.72" opacity="0.3"/><path d="M81.5,150.3 C58.6,150.6 29.8,188.1 0.0,223.5" stroke="#6a0808" stroke-width="0.73" opacity="0.3"/><path d="M82.5,150.6 C60.7,150.1 31.2,186.5 0.0,225.4" stroke="#6a0808" stroke-width="0.88" opacity="0.3"/><path d="M82.6,150.6 C54.5,151.6 28.9,185.2 0.0,225.8" stroke="#6a0808" stroke-width="0.88" opacity="0.3"/><path d="M84.1,149.4 C56.7,153.0 27.5,186.3 0.0,227.4" stroke="#6a0808" stroke-width="0.87" opacity="0.3"/><path d="M82.3,150.5 C56.6,152.8 32.0,189.4 1.2,228.0" stroke="#6a0808" stroke-width="0.67" opacity="0.3"/><path d="M84.4,148.6 C55.3,151.2 34.3,189.1 3.2,228.4" stroke="#6a0808" stroke-width="0.88" opacity="0.3"/><path d="M84.4,149.1 C54.3,153.2 30.2,194.5 5.2,228.9" stroke="#6a0808" stroke-width="0.81" opacity="0.3"/><path d="M81.4,147.6 C55.3,150.7 28.0,197.2 7.2,229.6" stroke="#6a0808" stroke-width="0.68" opacity="0.3"/><path d="M81.4,147.9 C60.1,153.4 31.6,190.6 9.2,232.1" stroke="#6a0808" stroke-width="0.95" opacity="0.3"/><path d="M82.4,149.2 C61.1,153.2 33.0,194.7 11.2,231.2" stroke="#6a0808" stroke-width="0.90" opacity="0.3"/><path d="M84.1,149.9 C54.8,151.7 32.3,196.4 13.2,235.3" stroke="#6a0808" stroke-width="0.90" opacity="0.3"/><path d="M83.3,148.5 C60.2,151.5 32.5,194.2 15.2,233.7" stroke="#6a0808" stroke-width="0.71" opacity="0.3"/><path d="M82.1,150.6 C58.2,151.2 35.3,194.7 17.2,237.4" stroke="#6a0808" stroke-width="0.90" opacity="0.3"/><path d="M83.4,147.7 C56.7,154.0 33.1,200.5 19.2,234.6" stroke="#6a0808" stroke-width="0.87" opacity="0.3"/><path d="M83.9,150.7 C55.2,152.9 31.7,202.1 21.2,235.9" stroke="#6a0808" stroke-width="0.66" opacity="0.3"/><path d="M83.8,149.9 C54.9,153.9 31.6,203.5 23.2,238.4" stroke="#6a0808" stroke-width="0.80" opacity="0.3"/><path d="M83.6,150.2 C59.6,154.4 32.0,199.9 25.2,237.8" stroke="#6a0808" stroke-width="0.69" opacity="0.3"/><path d="M91.2,142.6 C133.9,143.9 180.5,171.1 197.0,206.0" stroke="#6a0808" stroke-width="1.04" opacity="0.3"/><path d="M89.7,142.8 C141.7,142.7 174.4,165.0 196.0,212.0" stroke="#6a0808" stroke-width="0.96" opacity="0.3"/><path d="M90.8,144.9 C131.0,147.4 168.0,168.7 191.0,208.0" stroke="#6a0808" stroke-width="1.25" opacity="0.3"/><path d="M91.8,143.0 C141.2,144.1 177.0,171.1 200.0,214.0" stroke="#6a0808" stroke-width="1.22" opacity="0.3"/><path d="M91.3,142.0 C130.6,145.4 164.7,170.2 186.0,222.0" stroke="#6a0808" stroke-width="0.99" opacity="0.3"/><path d="M90.3,144.9 C123.9,148.4 160.8,171.7 182.0,211.0" stroke="#6a0808" stroke-width="0.99" opacity="0.3"/><path d="M91.4,144.2 C141.9,148.2 177.9,175.0 194.0,219.0" stroke="#6a0808" stroke-width="1.05" opacity="0.3"/><path d="M91.3,143.6 C122.3,145.9 155.7,158.7 176.0,200.0" stroke="#6a0808" stroke-width="1.23" opacity="0.3"/><path d="M93.5,144.8 C131.2,148.4 182.6,169.6 199.0,209.0" stroke="#6a0808" stroke-width="1.03" opacity="0.3"/><path d="M87,150 C98,176 116,206 140,253" stroke="#6a0808" stroke-width="1.10" opacity="0.3"/><path d="M90,146 C110,150 125,160 135,186" stroke="#6a0808" stroke-width="1.00" opacity="0.3"/><path d="M92,145 C120,140 150,150 165,170" stroke="#6a0808" stroke-width="0.90" opacity="0.3"/></g>
<g fill="none" stroke="#d01018" stroke-linecap="round"><path d="M83.7,148.8 C59.8,149.4 22.3,160.0 0.0,174.3" stroke-width="0.37"/><path d="M82.7,149.7 C60.4,147.8 18.8,159.2 0.0,176.7" stroke-width="0.62"/><path d="M82.6,150.7 C54.2,148.5 26.1,159.7 0.0,178.1" stroke-width="0.51"/><path d="M81.5,149.1 C60.0,148.8 22.5,160.4 0.0,182.4" stroke-width="0.50"/><path d="M82.7,148.5 C60.7,149.3 21.6,164.3 0.0,181.9" stroke-width="0.43"/><path d="M82.2,149.6 C57.0,148.4 25.1,164.0 0.0,183.8" stroke-width="0.62"/><path d="M83.6,148.7 C57.4,149.1 23.8,164.9 0.0,184.3" stroke-width="0.35"/><path d="M83.5,149.1 C59.6,150.1 25.3,163.0 0.0,185.6" stroke-width="0.44"/><path d="M81.8,150.9 C61.6,149.9 23.9,170.2 0.0,189.2" stroke-width="0.39"/><path d="M82.6,150.0 C57.9,147.9 23.1,167.0 0.0,189.6" stroke-width="0.44"/><path d="M82.5,148.8 C60.2,150.0 24.8,169.0 0.0,190.7" stroke-width="0.58"/><path d="M83.4,150.2 C61.5,147.8 27.9,168.5 0.0,195.1" stroke-width="0.49"/><path d="M83.5,147.6 C59.3,148.0 24.1,173.7 0.0,196.4" stroke-width="0.48"/><path d="M83.5,150.3 C60.1,148.0 24.8,171.8 0.0,197.2" stroke-width="0.37"/><path d="M83.1,150.3 C61.5,148.4 23.6,174.3 0.0,198.6" stroke-width="0.39"/><path d="M83.0,147.7 C60.3,150.7 22.3,174.3 0.0,198.9" stroke-width="0.59"/><path d="M82.0,147.7 C61.0,151.0 23.8,174.5 0.0,203.5" stroke-width="0.57"/><path d="M81.6,149.7 C60.5,150.0 23.9,172.2 0.0,204.6" stroke-width="0.43"/><path d="M81.2,147.0 C56.9,148.7 24.0,173.0 0.0,206.0" stroke-width="0.51"/><path d="M82.5,147.5 C56.7,150.4 30.6,181.7 0.0,207.2" stroke-width="0.42"/><path d="M83.9,150.7 C57.7,151.0 30.3,179.5 0.0,206.0" stroke-width="0.61"/><path d="M82.0,148.1 C55.0,151.6 23.8,181.0 0.0,207.7" stroke-width="0.37"/><path d="M82.5,147.7 C58.2,150.5 26.4,182.4 0.0,210.6" stroke-width="0.40"/><path d="M82.2,148.5 C55.7,151.8 30.8,178.3 0.0,211.6" stroke-width="0.46"/><path d="M82.6,148.1 C58.0,151.9 27.5,183.6 0.0,213.3" stroke-width="0.53"/><path d="M81.2,150.0 C61.6,151.1 27.0,184.7 0.0,217.0" stroke-width="0.56"/><path d="M81.5,150.9 C61.6,150.7 29.7,180.6 0.0,218.2" stroke-width="0.65"/><path d="M83.2,150.0 C55.5,150.4 27.2,186.0 0.0,220.5" stroke-width="0.38"/><path d="M82.6,148.8 C54.8,151.7 32.0,187.2 0.0,222.4" stroke-width="0.42"/><path d="M81.5,150.3 C58.6,150.6 29.8,188.1 0.0,223.5" stroke-width="0.43"/><path d="M82.5,150.6 C60.7,150.1 31.2,186.5 0.0,225.4" stroke-width="0.58"/><path d="M82.6,150.6 C54.5,151.6 28.9,185.2 0.0,225.8" stroke-width="0.58"/><path d="M84.1,149.4 C56.7,153.0 27.5,186.3 0.0,227.4" stroke-width="0.57"/><path d="M82.3,150.5 C56.6,152.8 32.0,189.4 1.2,228.0" stroke-width="0.37"/><path d="M84.4,148.6 C55.3,151.2 34.3,189.1 3.2,228.4" stroke-width="0.58"/><path d="M84.4,149.1 C54.3,153.2 30.2,194.5 5.2,228.9" stroke-width="0.51"/><path d="M81.4,147.6 C55.3,150.7 28.0,197.2 7.2,229.6" stroke-width="0.38"/><path d="M81.4,147.9 C60.1,153.4 31.6,190.6 9.2,232.1" stroke-width="0.65"/><path d="M82.4,149.2 C61.1,153.2 33.0,194.7 11.2,231.2" stroke-width="0.60"/><path d="M84.1,149.9 C54.8,151.7 32.3,196.4 13.2,235.3" stroke-width="0.60"/><path d="M83.3,148.5 C60.2,151.5 32.5,194.2 15.2,233.7" stroke-width="0.41"/><path d="M82.1,150.6 C58.2,151.2 35.3,194.7 17.2,237.4" stroke-width="0.60"/><path d="M83.4,147.7 C56.7,154.0 33.1,200.5 19.2,234.6" stroke-width="0.57"/><path d="M83.9,150.7 C55.2,152.9 31.7,202.1 21.2,235.9" stroke-width="0.36"/><path d="M83.8,149.9 C54.9,153.9 31.6,203.5 23.2,238.4" stroke-width="0.50"/><path d="M83.6,150.2 C59.6,154.4 32.0,199.9 25.2,237.8" stroke-width="0.39"/><path d="M91.2,142.6 C133.9,143.9 180.5,171.1 197.0,206.0" stroke-width="0.74"/><path d="M89.7,142.8 C141.7,142.7 174.4,165.0 196.0,212.0" stroke-width="0.66"/><path d="M90.8,144.9 C131.0,147.4 168.0,168.7 191.0,208.0" stroke-width="0.95"/><path d="M91.8,143.0 C141.2,144.1 177.0,171.1 200.0,214.0" stroke-width="0.92"/><path d="M91.3,142.0 C130.6,145.4 164.7,170.2 186.0,222.0" stroke-width="0.69"/><path d="M90.3,144.9 C123.9,148.4 160.8,171.7 182.0,211.0" stroke-width="0.69"/><path d="M91.4,144.2 C141.9,148.2 177.9,175.0 194.0,219.0" stroke-width="0.75"/><path d="M91.3,143.6 C122.3,145.9 155.7,158.7 176.0,200.0" stroke-width="0.93"/><path d="M93.5,144.8 C131.2,148.4 182.6,169.6 199.0,209.0" stroke-width="0.73"/><path d="M87,150 C98,176 116,206 140,253" stroke-width="0.80"/><path d="M90,146 C110,150 125,160 135,186" stroke-width="0.70"/><path d="M92,145 C120,140 150,150 165,170" stroke-width="0.60"/></g>
<path d="M84,150 C80,176 86,206 104,227" stroke="#7a0606" stroke-width="2.6" fill="none"/>
<path d="M84,150 C80,176 86,206 104,227" stroke="#c00a10" stroke-width="1.6" fill="none"/>
<path d="M86.3,33 L90.2,150" stroke="#800404" stroke-width="2.4" fill="none"/>
<path d="M86.3,33 L90.2,150" stroke="#b80c0c" stroke-width="1.3" fill="none"/>
<path d="M79,152 L90,143 M81,151 L88,146 M83,153 L88,145" stroke="#e8d020" stroke-width="1.1" fill="none"/>
<ellipse cx="85" cy="149" rx="3" ry="2" fill="#d8c820" opacity="0.8" filter="url(#b05)"/>
<path d="M104,200 l4,-3 M107,180 l3,-2" stroke="#c8c830" stroke-width="0.4" fill="none"/>
</g>
<rect x="1.2" y="35.2" width="214.4" height="266.2" fill="none" stroke="#4a4a4a" stroke-width="0.9"/>
<g stroke-width="1.2" fill="none"><path d="M175.4,75.2 L174.3,50.5" stroke="#1010ff"/><path d="M175.4,75.2 L192.5,59.3" stroke="#1a7a1a"/><path d="M175.4,75.2 L199.8,76.7" stroke="#ff1a1a"/></g>
<polygon points="174.1,47.3 171.0,53.0 177.4,52.8" fill="#1010ff"/>
<polygon points="194.9,57.0 188.9,58.2 192.8,62.3" fill="#1a7a1a"/>
<polygon points="203.2,76.9 197.5,73.5 197.3,80.1" fill="#ff1a1a"/>
<rect x="4.0" y="39.0" width="60.6" height="9.9" rx="0.8" fill="#ffffff" fill-opacity="0.78" stroke="#d0d0d0" stroke-width="0.5"/>
<text x="5.6" y="47.3" font-size="8.6" text-anchor="start" fill="#1a1a1a" stroke="#1a1a1a" stroke-width="0.15" textLength="56.2" lengthAdjust="spacingAndGlyphs" >t=111.67 (min)</text>
<path d="M63,134 L80.5,146.5" stroke="#333" stroke-width="0.6"/>
<polygon points="81.5,147.3 77.5,146.5 79.6,143.8" fill="#555"/>
<rect x="27.6" y="123.2" width="35.8" height="11.6" rx="1.8" fill="#f4f4f4" stroke="#555" stroke-width="0.6"/>
<text x="30.0" y="132.4" font-size="8.2" text-anchor="start" fill="#1a1a1a" stroke="#1a1a1a" stroke-width="0.15" textLength="31.0" lengthAdjust="spacingAndGlyphs" >Nullpoint</text>
<text x="249.4" y="9.8" font-size="8.2" text-anchor="start" fill="#1a1a1a" stroke="#1a1a1a" stroke-width="0.15" textLength="10.6" lengthAdjust="spacingAndGlyphs" >(b)</text>
<text x="266.8" y="9.1" font-size="10.4" text-anchor="start" fill="#1a1a1a" stroke="#1a1a1a" stroke-width="0.15" textLength="82.5" lengthAdjust="spacingAndGlyphs" >Nullpoint location</text>
<path d="M249.20,34.4V140.5M253.45,34.4V140.5M257.71,34.4V140.5M261.96,34.4V140.5M266.22,34.4V140.5M270.47,34.4V140.5M274.72,34.4V140.5M278.98,34.4V140.5M283.23,34.4V140.5M287.49,34.4V140.5M291.74,34.4V140.5M295.99,34.4V140.5M300.25,34.4V140.5M304.50,34.4V140.5M308.76,34.4V140.5M313.01,34.4V140.5M317.26,34.4V140.5M321.52,34.4V140.5M325.77,34.4V140.5M330.03,34.4V140.5M334.28,34.4V140.5M338.53,34.4V140.5M342.79,34.4V140.5M347.04,34.4V140.5M351.30,34.4V140.5M355.55,34.4V140.5M359.80,34.4V140.5M364.06,34.4V140.5M249.2,140.50H364.0M249.2,136.71H364.0M249.2,132.92H364.0M249.2,129.13H364.0M249.2,125.34H364.0M249.2,121.55H364.0M249.2,117.76H364.0M249.2,113.97H364.0M249.2,110.19H364.0M249.2,106.40H364.0M249.2,102.61H364.0M249.2,98.82H364.0M249.2,95.03H364.0M249.2,91.24H364.0M249.2,87.45H364.0M249.2,83.66H364.0M249.2,79.87H364.0M249.2,76.08H364.0M249.2,72.29H364.0M249.2,68.50H364.0M249.2,64.71H364.0M249.2,60.92H364.0M249.2,57.14H364.0M249.2,53.35H364.0M249.2,49.56H364.0M249.2,45.77H364.0M249.2,41.98H364.0M249.2,38.19H364.0M249.2,34.40H364.0" stroke="#e4e4e4" stroke-width="0.5" fill="none"/>
<path d="M249.20,34.4V140.5M270.47,34.4V140.5M291.74,34.4V140.5M313.01,34.4V140.5M334.28,34.4V140.5M355.55,34.4V140.5M249.2,140.50H364.0M249.2,125.34H364.0M249.2,110.19H364.0M249.2,95.03H364.0M249.2,79.87H364.0M249.2,64.71H364.0M249.2,49.56H364.0M249.2,34.40H364.0" stroke="#b8b8b8" stroke-width="0.6" fill="none"/>
<defs><clipPath id="clipb"><rect x="249.2" y="34.4" width="114.8" height="106.1"/></clipPath></defs>
<g clip-path="url(#clipb)" fill="none" stroke-width="1.15" stroke-linejoin="round">
<polyline points="249.20,64.23 249.41,64.60 249.63,65.79 249.84,66.08 250.05,65.39 250.26,66.09 250.48,65.67 250.69,64.90 250.90,65.71 251.11,65.48 251.33,64.92 251.54,65.93 251.75,66.93 251.97,66.08 252.18,65.36 252.39,65.79 252.60,66.53 252.82,66.38 253.03,66.23 253.24,65.42 253.45,66.00 253.67,65.67 253.88,64.58 254.09,64.89 254.30,64.85 254.52,65.45 254.73,65.96 254.94,66.07 255.16,66.11 255.37,65.11 255.58,65.12 255.79,65.39 256.01,65.16 256.22,65.18 256.43,64.95 256.64,64.29 256.86,64.30 257.07,63.95 257.28,62.26 257.50,61.77 257.71,62.53 257.92,63.43 258.13,63.76 258.35,62.43 258.56,62.05 258.77,63.32 258.98,63.28 259.20,61.87 259.41,61.94 259.62,62.77 259.83,62.71 260.05,63.57 260.26,64.67 260.47,65.01 260.69,64.86 260.90,64.70 261.11,64.49 261.32,64.65 261.54,65.28 261.75,65.65 261.96,66.54 262.17,66.40 262.39,65.79 262.60,66.67 262.81,66.74 263.03,66.67 263.24,66.39 263.45,65.60 263.66,65.10 263.88,66.70 264.09,68.68 264.30,68.27 264.51,67.47 264.73,66.80 264.94,66.77 265.15,68.37 265.37,68.75 265.58,67.30 265.79,67.07 266.00,67.16 266.22,67.46 266.43,68.01 266.64,67.83 266.85,67.54 267.07,67.57 267.28,67.77 267.49,68.27 267.70,68.17 267.92,67.78 268.13,67.42 268.34,66.89 268.56,67.43 268.77,68.30 268.98,68.78 269.19,68.39 269.41,68.05 269.62,68.49 269.83,68.55 270.04,68.73 270.26,68.42 270.47,68.37 270.68,68.03 270.90,67.53 271.11,67.80 271.32,68.54 271.53,68.71 271.75,67.68 271.96,68.22 272.17,68.70 272.38,68.12 272.60,68.65 272.81,68.44 273.02,67.21 273.24,67.77 273.45,67.98 273.66,68.16 273.87,68.31 274.09,68.41 274.30,67.74 274.51,66.61 274.72,67.16 274.94,67.74 275.15,67.01 275.36,65.51 275.57,67.12 275.79,67.46 276.00,65.56 276.21,65.99 276.43,67.44 276.64,67.12 276.85,66.53 277.06,67.26 277.28,67.77 277.49,67.11 277.70,65.99 277.91,66.57 278.13,66.66 278.34,67.02 278.55,66.95 278.77,66.40 278.98,67.01 279.19,67.17 279.40,66.69 279.62,66.32 279.83,66.58 280.04,66.99 280.25,67.31 280.47,67.13 280.68,67.13 280.89,67.18 281.11,67.55 281.32,69.20 281.53,68.49 281.74,66.03 281.96,66.35 282.17,67.56 282.38,67.87 282.59,67.88 282.81,67.80 283.02,68.33 283.23,68.62 283.44,69.12 283.66,69.28 283.87,69.48 284.08,69.91 284.30,70.42 284.51,70.73 284.72,71.09 284.93,71.02 285.15,72.82 285.36,75.01 285.57,74.20 285.78,73.20 286.00,74.49 286.21,76.49 286.42,77.16 286.64,77.16 286.85,77.88 287.06,78.91 287.27,78.64 287.49,79.39 287.70,78.77 287.91,77.54 288.12,76.74 288.34,76.78 288.55,77.51 288.76,76.87 288.97,76.03 289.19,75.81 289.40,75.59 289.61,74.75 289.83,74.13 290.04,73.36 290.25,72.59 290.46,72.87 290.68,74.17 290.89,74.05 291.10,72.81 291.31,72.55 291.53,72.07 291.74,72.56 291.95,72.52 292.17,72.46 292.38,71.71 292.59,71.96 292.80,73.74 293.02,73.72 293.23,73.07 293.44,72.60 293.65,70.90 293.87,70.29 294.08,71.85 294.29,70.90 294.51,70.69 294.72,72.12 294.93,71.54 295.14,70.74 295.36,71.62 295.57,71.40 295.78,71.29 295.99,71.37 296.21,72.68 296.42,74.23 296.63,75.96 296.84,78.94 297.06,79.22 297.27,80.38 297.48,82.92 297.70,84.14 297.91,85.28 298.12,85.91 298.33,86.77 298.55,87.49 298.76,85.66 298.97,85.80 299.18,87.82 299.40,88.20 299.61,87.22 299.82,87.13 300.04,84.94 300.25,83.01 300.46,85.53 300.67,81.65 300.89,84.07 301.10,81.61 301.31,78.70 301.52,76.89 301.74,76.92 301.95,75.40 302.16,75.59 302.38,75.43 302.59,75.43 302.80,76.94 303.01,74.60 303.23,71.43 303.44,73.39 303.65,71.45 303.86,69.77 304.08,70.80 304.29,71.47 304.50,71.41 304.71,71.85 304.93,70.95 305.14,69.67 305.35,69.89 305.57,68.26 305.78,67.81 305.99,68.26 306.20,68.25 306.42,66.62 306.63,67.66 306.84,66.51 307.05,65.22 307.27,65.47 307.48,66.53 307.69,67.68 307.91,67.85 308.12,67.09 308.33,64.27 308.54,68.26 308.76,64.20 308.97,65.94 309.18,64.39 309.39,62.96 309.61,62.68 309.82,62.97 310.03,62.71 310.24,62.43 310.46,63.85 310.67,62.85 310.88,61.77 311.10,61.92 311.31,61.40 311.52,62.82 311.73,64.91 311.95,63.05 312.16,61.81 312.37,60.95 312.58,64.38 312.80,62.33 313.01,59.29 313.22,61.60 313.44,64.06 313.65,64.71 313.86,63.18 314.07,62.66 314.29,60.93 314.50,62.90 314.71,62.43 314.92,62.38 315.14,62.00 315.35,61.30 315.56,61.12 315.78,62.04 315.99,60.65 316.20,59.46 316.41,60.16 316.63,62.27 316.84,63.47 317.05,64.20 317.26,63.75 317.48,63.74 317.69,63.44 317.90,63.51 318.11,63.57 318.33,61.00 318.54,62.99 318.75,62.68 318.97,62.19 319.18,62.79 319.39,61.44 319.60,61.36 319.82,62.44 320.03,61.96 320.24,61.21 320.45,60.31 320.67,64.33 320.88,65.33 321.09,65.61 321.31,65.64 321.52,63.79 321.73,61.15 321.94,61.36 322.16,62.35 322.37,62.26 322.58,62.71 322.79,61.17 323.01,63.23 323.22,62.96 323.43,66.21 323.64,63.89 323.86,66.81 324.07,63.35 324.28,63.64 324.50,64.25 324.71,65.56 324.92,65.03 325.13,64.96 325.35,65.68 325.56,65.77 325.77,66.61 325.98,65.48 326.20,66.85 326.41,66.12 326.62,66.35 326.84,65.72 327.05,65.84 327.26,68.99 327.47,69.14 327.69,66.77 327.90,67.46 328.11,68.16 328.32,67.50 328.54,67.49 328.75,63.51 328.96,65.94 329.18,65.72 329.39,65.84 329.60,70.17 329.81,68.72 330.03,68.36 330.24,67.42 330.45,70.27 330.66,69.89 330.88,68.58 331.09,67.95 331.30,68.60 331.51,68.63 331.73,69.35 331.94,69.69 332.15,70.14 332.37,68.45 332.58,67.88 332.79,69.18 333.00,69.87 333.22,69.79 333.43,70.77 333.64,70.89 333.85,70.19 334.07,68.82 334.28,70.11 334.49,71.90 334.71,70.60 334.92,69.54 335.13,70.48 335.34,71.53 335.56,73.06 335.77,73.92 335.98,71.85 336.19,70.33 336.41,71.04 336.62,70.34 336.83,69.57 337.05,70.59 337.26,74.17 337.47,75.69 337.68,74.24 337.90,71.66 338.11,70.50 338.32,72.87 338.53,73.02 338.75,69.62 338.96,69.44 339.17,71.11 339.38,69.41 339.60,69.50 339.81,69.62 340.02,71.27 340.24,70.47 340.45,71.88 340.66,71.64 340.87,71.11 341.09,74.77 341.30,73.65 341.51,71.80 341.72,72.40 341.94,70.30 342.15,69.72 342.36,68.86 342.58,67.66 342.79,67.39 343.00,69.72 343.21,70.50 343.43,67.40 343.64,66.14 343.85,68.12 344.06,67.47 344.28,67.01 344.49,66.66 344.70,66.33 344.91,66.50 345.13,66.83 345.34,65.87 345.55,67.45 345.77,66.13 345.98,67.34 346.19,68.16 346.40,67.69 346.62,67.57 346.83,68.71 347.04,68.42 347.25,68.14 347.47,67.09 347.68,65.92 347.89,66.20 348.11,66.26 348.32,65.67 348.53,64.36 348.74,63.82 348.96,64.71 349.17,64.45 349.38,63.92 349.59,64.13 349.81,62.98 350.02,63.00 350.23,64.15 350.45,64.87 350.66,65.26 350.87,63.89 351.08,63.42 351.30,63.29 351.51,63.42 351.72,64.01 351.93,62.96 352.15,61.69 352.36,61.64 352.57,61.68 352.78,61.00 353.00,60.98 353.21,61.81 353.42,61.85 353.64,60.46 353.85,60.05 354.06,59.58 354.27,59.63 354.49,59.74 354.70,58.05 354.91,58.23 355.12,58.53 355.34,56.79 355.55,56.54 355.76,56.19 355.98,55.38 356.19,55.25 356.40,54.65 356.61,54.08 356.83,53.92 357.04,53.66 357.25,53.37 357.46,52.80 357.68,51.27 357.89,51.14 358.10,51.64 358.32,52.74 358.53,52.84 358.74,53.00 358.95,54.18 359.17,53.86 359.38,53.71 359.59,53.80 359.80,53.51 360.02,54.76 360.23,55.84 360.44,55.00 360.65,54.93 360.87,55.82 361.08,55.97 361.29,57.00 361.51,57.69 361.72,56.95 361.93,56.76 362.14,58.27 362.36,59.59 362.57,59.29 362.78,59.64 362.99,60.39 363.21,60.20 363.42,60.51 363.63,62.16 363.85,62.11 364.06,61.72" stroke="#ff0000"/>
<polyline points="249.20,65.61 249.41,65.67 249.63,66.30 249.84,65.75 250.05,65.68 250.26,66.56 250.48,65.82 250.69,65.99 250.90,66.56 251.11,66.48 251.33,65.97 251.54,64.92 251.75,65.13 251.97,66.33 252.18,66.20 252.39,66.06 252.60,66.29 252.82,65.72 253.03,66.01 253.24,66.44 253.45,66.53 253.67,66.56 253.88,66.16 254.09,66.42 254.30,66.61 254.52,66.33 254.73,66.41 254.94,66.72 255.16,66.97 255.37,66.60 255.58,66.18 255.79,65.35 256.01,66.07 256.22,66.78 256.43,65.80 256.64,65.36 256.86,65.29 257.07,66.02 257.28,66.18 257.50,65.69 257.71,65.77 257.92,65.58 258.13,66.00 258.35,65.56 258.56,64.31 258.77,64.90 258.98,65.07 259.20,64.83 259.41,65.21 259.62,65.08 259.83,64.34 260.05,64.34 260.26,64.65 260.47,64.38 260.69,63.94 260.90,63.32 261.11,63.52 261.32,63.62 261.54,63.17 261.75,63.81 261.96,63.87 262.17,63.12 262.39,62.82 262.60,62.51 262.81,63.03 263.03,63.01 263.24,62.43 263.45,62.82 263.66,62.30 263.88,61.44 264.09,61.73 264.30,61.58 264.51,61.37 264.73,61.53 264.94,61.66 265.15,61.02 265.37,61.44 265.58,61.90 265.79,60.64 266.00,61.19 266.22,61.38 266.43,60.60 266.64,60.14 266.85,59.57 267.07,59.88 267.28,60.54 267.49,59.70 267.70,58.58 267.92,58.96 268.13,59.02 268.34,58.50 268.56,58.19 268.77,58.01 268.98,57.49 269.19,57.91 269.41,57.80 269.62,56.84 269.83,57.03 270.04,56.53 270.26,57.01 270.47,56.78 270.68,55.72 270.90,56.38 271.11,56.24 271.32,55.83 271.53,54.97 271.75,54.11 271.96,54.72 272.17,55.46 272.38,55.69 272.60,55.42 272.81,55.29 273.02,55.36 273.24,55.53 273.45,55.48 273.66,55.62 273.87,55.93 274.09,56.23 274.30,55.28 274.51,55.63 274.72,57.01 274.94,56.52 275.15,56.45 275.36,56.61 275.57,56.39 275.79,56.27 276.00,56.45 276.21,57.33 276.43,57.31 276.64,57.68 276.85,58.21 277.06,57.89 277.28,58.32 277.49,58.05 277.70,57.86 277.91,57.82 278.13,58.38 278.34,58.54 278.55,57.98 278.77,58.33 278.98,59.09 279.19,59.17 279.40,59.17 279.62,59.75 279.83,58.05 280.04,56.96 280.25,57.42 280.47,57.85 280.68,58.18 280.89,57.75 281.11,57.73 281.32,57.92 281.53,58.16 281.74,58.82 281.96,58.49 282.17,57.59 282.38,57.37 282.59,57.50 282.81,57.18 283.02,57.13 283.23,58.04 283.44,57.46 283.66,57.08 283.87,57.72 284.08,57.41 284.30,56.62 284.51,56.47 284.72,56.45 284.93,55.02 285.15,54.80 285.36,55.58 285.57,56.46 285.78,56.78 286.00,55.76 286.21,55.94 286.42,56.42 286.64,56.09 286.85,55.82 287.06,56.08 287.27,55.51 287.49,54.77 287.70,55.20 287.91,55.96 288.12,56.03 288.34,55.73 288.55,55.83 288.76,56.75 288.97,57.23 289.19,56.75 289.40,56.56 289.61,56.50 289.83,56.60 290.04,57.45 290.25,58.10 290.46,58.27 290.68,57.55 290.89,57.22 291.10,57.83 291.31,57.73 291.53,58.22 291.74,59.16 291.95,59.38 292.17,59.23 292.38,58.76 292.59,58.60 292.80,59.67 293.02,59.93 293.23,59.50 293.44,60.28 293.65,60.69 293.87,61.09 294.08,61.06 294.29,60.67 294.51,61.37 294.72,61.62 294.93,61.21 295.14,61.28 295.36,61.39 295.57,61.14 295.78,61.65 295.99,62.08 296.21,59.29 296.42,57.37 296.63,56.63 296.84,54.88 297.06,53.28 297.27,51.14 297.48,49.17 297.70,47.80 297.91,46.23 298.12,45.07 298.33,43.66 298.55,42.34 298.76,43.53 298.97,44.57 299.18,45.13 299.40,46.27 299.61,46.13 299.82,46.49 300.04,48.90 300.25,50.54 300.46,52.97 300.67,54.32 300.89,55.50 301.10,57.29 301.31,58.01 301.52,59.18 301.74,60.25 301.95,60.87 302.16,62.13 302.38,63.41 302.59,63.22 302.80,63.21 303.01,63.45 303.23,64.39 303.44,64.53 303.65,63.70 303.86,63.87 304.08,64.00 304.29,63.41 304.50,63.60 304.71,64.13 304.93,64.56 305.14,65.19 305.35,65.17 305.57,65.27 305.78,65.16 305.99,65.18 306.20,65.28 306.42,65.50 306.63,66.05 306.84,65.84 307.05,65.69 307.27,65.73 307.48,65.62 307.69,65.56 307.91,65.05 308.12,64.51 308.33,64.66 308.54,65.30 308.76,65.08 308.97,65.37 309.18,66.46 309.39,65.73 309.61,64.93 309.82,64.95 310.03,64.83 310.24,65.22 310.46,65.52 310.67,64.42 310.88,63.56 311.10,64.12 311.31,63.69 311.52,63.70 311.73,64.44 311.95,63.86 312.16,63.96 312.37,64.11 312.58,63.65 312.80,63.51 313.01,63.04 313.22,62.86 313.44,63.70 313.65,64.29 313.86,64.02 314.07,63.97 314.29,64.46 314.50,64.46 314.71,64.07 314.92,64.60 315.14,64.77 315.35,65.27 315.56,66.25 315.78,65.69 315.99,65.59 316.20,65.86 316.41,65.43 316.63,65.08 316.84,64.64 317.05,64.67 317.26,64.67 317.48,62.86 317.69,62.46 317.90,63.96 318.11,63.55 318.33,62.48 318.54,61.97 318.75,61.87 318.97,62.33 319.18,61.66 319.39,60.96 319.60,62.16 319.82,62.26 320.03,61.83 320.24,61.82 320.45,61.97 320.67,62.19 320.88,62.11 321.09,62.28 321.31,62.46 321.52,62.91 321.73,62.99 321.94,62.74 322.16,62.73 322.37,62.51 322.58,62.74 322.79,63.31 323.01,62.98 323.22,63.41 323.43,64.18 323.64,64.64 323.86,65.05 324.07,64.52 324.28,64.66 324.50,64.97 324.71,65.67 324.92,66.88 325.13,66.65 325.35,66.88 325.56,66.31 325.77,65.65 325.98,67.08 326.20,67.66 326.41,67.53 326.62,67.42 326.84,67.34 327.05,67.26 327.26,66.83 327.47,67.32 327.69,68.32 327.90,68.14 328.11,67.89 328.32,67.79 328.54,67.88 328.75,68.08 328.96,68.01 329.18,68.45 329.39,68.67 329.60,68.31 329.81,67.24 330.03,67.14 330.24,67.99 330.45,67.98 330.66,67.84 330.88,68.47 331.09,68.35 331.30,67.33 331.51,67.49 331.73,68.35 331.94,68.02 332.15,66.95 332.37,66.85 332.58,67.17 332.79,66.76 333.00,66.60 333.22,67.19 333.43,67.86 333.64,68.10 333.85,68.11 334.07,67.92 334.28,68.23 334.49,68.04 334.71,67.74 334.92,68.45 335.13,68.27 335.34,68.89 335.56,69.50 335.77,68.90 335.98,68.23 336.19,68.07 336.41,67.75 336.62,67.63 336.83,67.83 337.05,67.81 337.26,67.48 337.47,67.22 337.68,67.33 337.90,67.30 338.11,67.74 338.32,67.55 338.53,66.69 338.75,66.87 338.96,67.67 339.17,67.33 339.38,66.45 339.60,66.61 339.81,66.97 340.02,66.45 340.24,66.28 340.45,66.15 340.66,65.54 340.87,65.53 341.09,65.87 341.30,65.52 341.51,65.42 341.72,65.91 341.94,66.14 342.15,66.15 342.36,65.11 342.58,64.69 342.79,65.10 343.00,64.79 343.21,65.26 343.43,65.25 343.64,65.07 343.85,65.95 344.06,65.78 344.28,65.39 344.49,65.39 344.70,64.85 344.91,63.91 345.13,64.15 345.34,64.94 345.55,64.50 345.77,64.24 345.98,64.28 346.19,64.57 346.40,64.70 346.62,64.25 346.83,64.18 347.04,64.20 347.25,64.09 347.47,63.34 347.68,63.28 347.89,62.87 348.11,62.42 348.32,63.28 348.53,63.35 348.74,62.58 348.96,61.82 349.17,62.38 349.38,62.62 349.59,62.38 349.81,62.57 350.02,62.47 350.23,62.13 350.45,62.83 350.66,63.85 350.87,63.13 351.08,62.39 351.30,62.23 351.51,62.79 351.72,63.36 351.93,62.25 352.15,62.36 352.36,62.86 352.57,62.78 352.78,63.13 353.00,63.43 353.21,62.98 353.42,63.25 353.64,64.16 353.85,63.92 354.06,63.20 354.27,62.88 354.49,63.15 354.70,63.35 354.91,63.60 355.12,63.52 355.34,63.17 355.55,63.34 355.76,64.33 355.98,63.97 356.19,63.39 356.40,64.11 356.61,64.16 356.83,64.07 357.04,63.25 357.25,62.98 357.46,64.33 357.68,64.06 357.89,63.62 358.10,63.23 358.32,62.86 358.53,63.85 358.74,64.02 358.95,63.74 359.17,63.94 359.38,63.89 359.59,64.43 359.80,64.25 360.02,63.97 360.23,64.45 360.44,64.00 360.65,63.16 360.87,63.74 361.08,63.88 361.29,64.47 361.51,65.01 361.72,64.61 361.93,64.94 362.14,65.11 362.36,65.33 362.57,65.14 362.78,65.09 362.99,64.88 363.21,64.01 363.42,64.40 363.63,65.29 363.85,65.70 364.06,66.55" stroke="#008000"/>
<polyline points="249.20,124.73 249.41,124.51 249.63,125.01 249.84,125.72 250.05,125.77 250.26,125.18 250.48,125.04 250.69,125.05 250.90,124.97 251.11,124.84 251.33,125.20 251.54,124.66 251.75,123.83 251.97,123.47 252.18,123.68 252.39,124.33 252.60,124.45 252.82,124.77 253.03,124.17 253.24,123.94 253.45,124.61 253.67,124.23 253.88,123.24 254.09,123.01 254.30,123.79 254.52,124.04 254.73,123.40 254.94,123.14 255.16,123.54 255.37,123.49 255.58,122.89 255.79,122.07 256.01,122.67 256.22,123.48 256.43,123.25 256.64,123.79 256.86,123.75 257.07,123.20 257.28,122.43 257.50,122.05 257.71,122.91 257.92,122.68 258.13,122.29 258.35,123.14 258.56,123.26 258.77,122.91 258.98,123.04 259.20,122.86 259.41,123.37 259.62,123.51 259.83,122.44 260.05,122.09 260.26,122.10 260.47,122.04 260.69,121.95 260.90,122.75 261.11,123.01 261.32,123.30 261.54,123.83 261.75,123.89 261.96,123.36 262.17,122.24 262.39,122.66 262.60,122.49 262.81,122.64 263.03,123.18 263.24,122.89 263.45,123.29 263.66,123.18 263.88,122.14 264.09,122.63 264.30,122.97 264.51,122.66 264.73,122.35 264.94,122.12 265.15,122.48 265.37,122.42 265.58,122.55 265.79,123.23 266.00,122.83 266.22,122.81 266.43,123.19 266.64,122.50 266.85,122.86 267.07,123.00 267.28,122.31 267.49,122.35 267.70,123.04 267.92,124.01 268.13,124.03 268.34,123.22 268.56,123.08 268.77,123.22 268.98,122.93 269.19,122.81 269.41,122.99 269.62,122.57 269.83,122.84 270.04,123.19 270.26,122.17 270.47,121.78 270.68,122.97 270.90,123.31 271.11,122.69 271.32,122.25 271.53,122.41 271.75,123.02 271.96,123.34 272.17,122.95 272.38,122.60 272.60,123.01 272.81,123.20 273.02,123.17 273.24,122.88 273.45,122.98 273.66,123.08 273.87,122.56 274.09,122.58 274.30,123.16 274.51,122.88 274.72,122.84 274.94,123.17 275.15,123.21 275.36,123.97 275.57,123.65 275.79,122.97 276.00,123.09 276.21,123.11 276.43,123.32 276.64,123.68 276.85,123.54 277.06,122.65 277.28,122.33 277.49,123.17 277.70,123.28 277.91,123.28 278.13,123.64 278.34,123.20 278.55,123.24 278.77,124.12 278.98,124.27 279.19,123.68 279.40,123.34 279.62,122.97 279.83,123.27 280.04,123.29 280.25,122.74 280.47,122.88 280.68,122.58 280.89,122.21 281.11,122.63 281.32,122.27 281.53,122.24 281.74,122.42 281.96,121.85 282.17,121.57 282.38,121.66 282.59,121.37 282.81,120.73 283.02,119.94 283.23,119.72 283.44,119.59 283.66,118.97 283.87,118.99 284.08,117.55 284.30,116.69 284.51,117.66 284.72,116.72 284.93,116.13 285.15,116.47 285.36,115.79 285.57,116.12 285.78,116.55 286.00,116.49 286.21,116.37 286.42,116.73 286.64,117.09 286.85,116.56 287.06,115.77 287.27,115.49 287.49,115.24 287.70,115.20 287.91,115.95 288.12,116.21 288.34,116.71 288.55,116.98 288.76,116.61 288.97,116.18 289.19,115.59 289.40,115.86 289.61,116.26 289.83,116.58 290.04,116.40 290.25,115.77 290.46,115.56 290.68,115.89 290.89,115.34 291.10,114.65 291.31,115.34 291.53,115.91 291.74,115.97 291.95,115.72 292.17,115.60 292.38,115.46 292.59,115.18 292.80,114.86 293.02,114.71 293.23,115.19 293.44,115.43 293.65,115.51 293.87,115.82 294.08,115.15 294.29,115.21 294.51,115.29 294.72,115.36 294.93,116.06 295.14,115.68 295.36,115.87 295.57,116.21 295.78,116.41 295.99,116.82 296.21,116.90 296.42,117.07 296.63,116.56 296.84,116.51 297.06,114.53 297.27,117.78 297.48,118.50 297.70,115.23 297.91,115.39 298.12,114.43 298.33,113.36 298.55,114.50 298.76,114.52 298.97,110.17 299.18,110.16 299.40,113.24 299.61,114.67 299.82,115.39 300.04,118.15 300.25,117.97 300.46,113.50 300.67,114.77 300.89,115.25 301.10,115.70 301.31,114.56 301.52,113.77 301.74,116.00 301.95,115.87 302.16,118.34 302.38,120.34 302.59,120.70 302.80,119.88 303.01,122.89 303.23,120.52 303.44,121.01 303.65,120.59 303.86,121.18 304.08,116.68 304.29,114.91 304.50,118.52 304.71,117.83 304.93,117.25 305.14,119.10 305.35,118.39 305.57,117.79 305.78,120.37 305.99,121.74 306.20,119.92 306.42,122.70 306.63,121.68 306.84,121.73 307.05,121.02 307.27,119.41 307.48,120.19 307.69,121.66 307.91,121.61 308.12,124.42 308.33,125.75 308.54,124.33 308.76,124.29 308.97,123.69 309.18,123.41 309.39,124.63 309.61,123.18 309.82,119.17 310.03,122.06 310.24,125.32 310.46,124.83 310.67,123.30 310.88,123.21 311.10,125.47 311.31,126.49 311.52,126.62 311.73,126.96 311.95,127.32 312.16,126.99 312.37,127.00 312.58,126.78 312.80,126.24 313.01,127.28 313.22,127.82 313.44,127.56 313.65,126.61 313.86,126.58 314.07,127.44 314.29,127.05 314.50,126.30 314.71,126.39 314.92,125.84 315.14,125.42 315.35,125.70 315.56,125.95 315.78,126.00 315.99,125.65 316.20,126.29 316.41,126.02 316.63,125.59 316.84,125.42 317.05,125.04 317.26,124.07 317.48,123.19 317.69,123.31 317.90,122.84 318.11,123.32 318.33,124.14 318.54,123.53 318.75,122.17 318.97,121.76 319.18,121.53 319.39,120.97 319.60,121.76 319.82,122.00 320.03,120.84 320.24,121.15 320.45,122.53 320.67,122.44 320.88,121.92 321.09,121.72 321.31,121.89 321.52,122.02 321.73,122.49 321.94,122.25 322.16,120.97 322.37,120.84 322.58,121.91 322.79,122.26 323.01,122.78 323.22,122.82 323.43,121.84 323.64,122.29 323.86,122.10 324.07,121.65 324.28,121.39 324.50,121.34 324.71,121.52 324.92,122.17 325.13,122.59 325.35,122.04 325.56,121.48 325.77,121.27 325.98,120.80 326.20,121.04 326.41,121.57 326.62,121.13 326.84,121.07 327.05,120.93 327.26,120.99 327.47,120.62 327.69,120.48 327.90,120.52 328.11,120.46 328.32,120.37 328.54,120.88 328.75,121.25 328.96,120.96 329.18,121.09 329.39,120.58 329.60,121.08 329.81,121.98 330.03,121.97 330.24,121.47 330.45,121.81 330.66,121.90 330.88,121.73 331.09,122.19 331.30,121.92 331.51,121.44 331.73,121.56 331.94,121.90 332.15,121.74 332.37,121.62 332.58,122.48 332.79,122.50 333.00,121.52 333.22,120.96 333.43,120.25 333.64,120.36 333.85,121.00 334.07,121.51 334.28,121.47 334.49,120.84 334.71,120.40 334.92,120.93 335.13,121.24 335.34,120.63 335.56,120.03 335.77,120.19 335.98,120.97 336.19,121.25 336.41,121.15 336.62,121.16 336.83,120.77 337.05,120.21 337.26,120.26 337.47,120.24 337.68,120.66 337.90,120.95 338.11,120.95 338.32,121.08 338.53,120.55 338.75,120.60 338.96,121.67 339.17,121.76 339.38,121.39 339.60,121.84 339.81,121.88 340.02,121.06 340.24,120.24 340.45,120.75 340.66,121.00 340.87,120.41 341.09,121.13 341.30,121.53 341.51,121.13 341.72,121.04 341.94,121.55 342.15,121.70 342.36,120.78 342.58,120.21 342.79,119.93 343.00,120.46 343.21,120.42 343.43,120.06 343.64,121.15 343.85,121.09 344.06,120.73 344.28,120.80 344.49,120.69 344.70,120.44 344.91,120.30 345.13,120.88 345.34,120.71 345.55,120.61 345.77,121.15 345.98,120.88 346.19,120.95 346.40,121.68 346.62,121.80 346.83,122.16 347.04,122.24 347.25,121.18 347.47,121.38 347.68,122.09 347.89,122.23 348.11,122.52 348.32,121.70 348.53,121.26 348.74,122.06 348.96,122.44 349.17,122.59 349.38,122.80 349.59,122.78 349.81,122.76 350.02,122.28 350.23,121.71 350.45,121.60 350.66,121.80 350.87,122.38 351.08,122.29 351.30,122.08 351.51,121.70 351.72,121.14 351.93,121.13 352.15,121.38 352.36,122.20 352.57,121.69 352.78,120.60 353.00,121.38 353.21,121.69 353.42,120.72 353.64,121.27 353.85,121.20 354.06,121.09 354.27,122.19 354.49,121.74 354.70,121.40 354.91,122.23 355.12,122.16 355.34,122.74 355.55,122.55 355.76,122.29 355.98,122.95 356.19,122.94 356.40,123.02 356.61,122.71 356.83,123.27 357.04,123.44 357.25,123.39 357.46,124.03 357.68,124.14 357.89,124.19 358.10,124.33 358.32,123.61 358.53,123.34 358.74,123.22 358.95,122.97 359.17,123.65 359.38,124.39 359.59,124.22 359.80,123.43 360.02,123.14 360.23,123.46 360.44,123.06 360.65,123.32 360.87,124.00 361.08,123.27 361.29,121.99 361.51,121.80 361.72,122.80 361.93,122.64 362.14,121.97 362.36,121.76 362.57,122.04 362.78,122.53 362.99,122.26 363.21,121.75 363.42,121.15 363.63,120.49 363.85,121.19 364.06,121.98" stroke="#0000ff"/>
</g>
<path d="M296.70,34.4V140.5" stroke="#000" stroke-width="1.4" stroke-dasharray="4.4,2.0"/>
<rect x="249.2" y="34.4" width="114.80000000000001" height="106.1" fill="none" stroke="#262626" stroke-width="0.9"/>
<path d="M249.20,140.5v3.2M270.47,140.5v3.2M291.74,140.5v3.2M313.01,140.5v3.2M334.28,140.5v3.2M355.55,140.5v3.2M253.45,140.5v1.8M257.71,140.5v1.8M261.96,140.5v1.8M266.22,140.5v1.8M274.72,140.5v1.8M278.98,140.5v1.8M283.23,140.5v1.8M287.49,140.5v1.8M295.99,140.5v1.8M300.25,140.5v1.8M304.50,140.5v1.8M308.76,140.5v1.8M317.26,140.5v1.8M321.52,140.5v1.8M325.77,140.5v1.8M330.03,140.5v1.8M338.53,140.5v1.8M342.79,140.5v1.8M347.04,140.5v1.8M351.30,140.5v1.8M359.80,140.5v1.8M364.06,140.5v1.8" stroke="#262626" stroke-width="0.7" fill="none"/>
<path d="M249.2,140.50h-3.2M249.2,125.34h-3.2M249.2,110.19h-3.2M249.2,95.03h-3.2M249.2,79.87h-3.2M249.2,64.71h-3.2M249.2,49.56h-3.2M249.2,34.40h-3.2M249.2,136.71h-1.8M249.2,132.92h-1.8M249.2,129.13h-1.8M249.2,121.55h-1.8M249.2,117.76h-1.8M249.2,113.97h-1.8M249.2,106.40h-1.8M249.2,102.61h-1.8M249.2,98.82h-1.8M249.2,91.24h-1.8M249.2,87.45h-1.8M249.2,83.66h-1.8M249.2,76.08h-1.8M249.2,72.29h-1.8M249.2,68.50h-1.8M249.2,60.93h-1.8M249.2,57.14h-1.8M249.2,53.35h-1.8M249.2,45.77h-1.8M249.2,41.98h-1.8M249.2,38.19h-1.8" stroke="#262626" stroke-width="0.7" fill="none"/>
<text x="249.2" y="152.9" font-size="8.6" text-anchor="middle" fill="#1a1a1a" stroke="#1a1a1a" stroke-width="0.15" textLength="5.2" lengthAdjust="spacingAndGlyphs" >0</text>
<text x="270.46999999999997" y="152.9" font-size="8.6" text-anchor="middle" fill="#1a1a1a" stroke="#1a1a1a" stroke-width="0.15" textLength="9.4" lengthAdjust="spacingAndGlyphs" >50</text>
<text x="291.74" y="152.9" font-size="8.6" text-anchor="middle" fill="#1a1a1a" stroke="#1a1a1a" stroke-width="0.15" textLength="14.2" lengthAdjust="spacingAndGlyphs" >100</text>
<text x="313.01" y="152.9" font-size="8.6" text-anchor="middle" fill="#1a1a1a" stroke="#1a1a1a" stroke-width="0.15" textLength="14.2" lengthAdjust="spacingAndGlyphs" >150</text>
<text x="334.28" y="152.9" font-size="8.6" text-anchor="middle" fill="#1a1a1a" stroke="#1a1a1a" stroke-width="0.15" textLength="14.2" lengthAdjust="spacingAndGlyphs" >200</text>
<text x="355.54999999999995" y="152.9" font-size="8.6" text-anchor="middle" fill="#1a1a1a" stroke="#1a1a1a" stroke-width="0.15" textLength="14.2" lengthAdjust="spacingAndGlyphs" >250</text>
<text x="243.4" y="143.6" font-size="8.6" text-anchor="end" fill="#1a1a1a" stroke="#1a1a1a" stroke-width="0.15" textLength="5.2" lengthAdjust="spacingAndGlyphs" >6</text>
<text x="243.4" y="128.44285714285715" font-size="8.6" text-anchor="end" fill="#1a1a1a" stroke="#1a1a1a" stroke-width="0.15" textLength="5.2" lengthAdjust="spacingAndGlyphs" >8</text>
<text x="243.4" y="113.28571428571428" font-size="8.6" text-anchor="end" fill="#1a1a1a" stroke="#1a1a1a" stroke-width="0.15" textLength="9.8" lengthAdjust="spacingAndGlyphs" >10</text>
<text x="243.4" y="98.12857142857143" font-size="8.6" text-anchor="end" fill="#1a1a1a" stroke="#1a1a1a" stroke-width="0.15" textLength="9.8" lengthAdjust="spacingAndGlyphs" >12</text>
<text x="243.4" y="82.97142857142856" font-size="8.6" text-anchor="end" fill="#1a1a1a" stroke="#1a1a1a" stroke-width="0.15" textLength="9.8" lengthAdjust="spacingAndGlyphs" >14</text>
<text x="243.4" y="67.8142857142857" font-size="8.6" text-anchor="end" fill="#1a1a1a" stroke="#1a1a1a" stroke-width="0.15" textLength="9.8" lengthAdjust="spacingAndGlyphs" >16</text>
<text x="243.4" y="52.657142857142865" font-size="8.6" text-anchor="end" fill="#1a1a1a" stroke="#1a1a1a" stroke-width="0.15" textLength="9.8" lengthAdjust="spacingAndGlyphs" >18</text>
<text x="243.4" y="37.50000000000001" font-size="8.6" text-anchor="end" fill="#1a1a1a" stroke="#1a1a1a" stroke-width="0.15" textLength="9.8" lengthAdjust="spacingAndGlyphs" >20</text>
<text x="306.3" y="163.5" font-size="8.6" text-anchor="middle" fill="#1a1a1a" stroke="#1a1a1a" stroke-width="0.15" textLength="27.4" lengthAdjust="spacingAndGlyphs" >t (min)</text>
<text transform="translate(230.8,87.8) rotate(-90)" font-size="8.8" text-anchor="middle" fill="#1a1a1a" stroke="#1a1a1a" stroke-width="0.15" textLength="71" lengthAdjust="spacingAndGlyphs">x<tspan font-size="6.2" font-style="italic" dy="1.8">np</tspan><tspan dy="-1.8">, y</tspan><tspan font-size="6.2" font-style="italic" dy="1.8">np</tspan><tspan dy="-1.8">, z</tspan><tspan font-size="6.2" font-style="italic" dy="1.8">np</tspan><tspan dy="-1.8"> (Mm)</tspan></text>
<rect x="249" y="20.5" width="114.5" height="10.4" rx="1.5" fill="#fff" stroke="#dcdcdc" stroke-width="0.6"/>
<path d="M250,24.9h14.7" stroke="#ff6060" stroke-width="1.3"/><path d="M290.8,24.9h15" stroke="#60a860" stroke-width="1.3"/><path d="M332.4,24.9h15" stroke="#6060ff" stroke-width="1.3"/>
<text x="270.3" y="27.8" font-size="7.8" fill="#1a1a1a" stroke="#1a1a1a" stroke-width="0.1">x<tspan font-size="6.0" font-style="italic" dy="1.5">np</tspan></text>
<text x="311.0" y="27.8" font-size="7.8" fill="#1a1a1a" stroke="#1a1a1a" stroke-width="0.1">y<tspan font-size="6.0" font-style="italic" dy="1.5">np</tspan></text>
<text x="352.9" y="27.8" font-size="7.8" fill="#1a1a1a" stroke="#1a1a1a" stroke-width="0.1">z<tspan font-size="6.0" font-style="italic" dy="1.5">np</tspan></text>
<text x="372.8" y="9.0" font-size="8.3" text-anchor="start" fill="#1a1a1a" stroke="#1a1a1a" stroke-width="0.15" textLength="10.5" lengthAdjust="spacingAndGlyphs" >(c)</text>
<text y="8.4" font-size="8.2" stroke="#1a1a1a" stroke-width="0.15" fill="#1a1a1a"><tspan x="421.3" font-style="italic">T</tspan><tspan x="428.6">(K)</tspan></text>
<text x="366.6" y="17.6" font-size="8.2" fill="#1a1a1a" stroke="#1a1a1a" stroke-width="0.15"><tspan textLength="9.68" lengthAdjust="spacingAndGlyphs">10</tspan><tspan font-size="5.90" dx="0.4" dy="-2.3">4</tspan></text>
<text x="416.6" y="17.6" font-size="8.2" fill="#1a1a1a" stroke="#1a1a1a" stroke-width="0.15"><tspan textLength="9.68" lengthAdjust="spacingAndGlyphs">10</tspan><tspan font-size="5.90" dx="0.4" dy="-2.3">5</tspan></text>
<text x="466.4" y="17.6" font-size="8.2" fill="#1a1a1a" stroke="#1a1a1a" stroke-width="0.15"><tspan textLength="9.68" lengthAdjust="spacingAndGlyphs">10</tspan><tspan font-size="5.90" dx="0.4" dy="-2.3">6</tspan></text>
<defs><linearGradient id="cbc" x1="0" x2="1" y1="0" y2="0"><stop offset="0" stop-color="#30123b"/><stop offset="0.07" stop-color="#4145ab"/><stop offset="0.14" stop-color="#4675ed"/><stop offset="0.22" stop-color="#39a2fc"/><stop offset="0.3" stop-color="#1bcfd4"/><stop offset="0.37" stop-color="#24eca6"/><stop offset="0.45" stop-color="#61fc6c"/><stop offset="0.52" stop-color="#a4fc3b"/><stop offset="0.6" stop-color="#d1e834"/><stop offset="0.67" stop-color="#f3c63a"/><stop offset="0.75" stop-color="#fe9b2d"/><stop offset="0.82" stop-color="#f36315"/><stop offset="0.9" stop-color="#d93806"/><stop offset="0.96" stop-color="#b11901"/><stop offset="1" stop-color="#7a0402"/></linearGradient></defs>
<rect x="373.0" y="24.8" width="114.60000000000002" height="6.5" fill="url(#cbc)" stroke="#262626" stroke-width="0.8"/>
<path d="M373.00,24.8v-3M422.90,24.8v-3M472.80,24.8v-3M388.02,24.8v-1.6M396.81,24.8v-1.6M403.04,24.8v-1.6M407.88,24.8v-1.6M411.83,24.8v-1.6M415.17,24.8v-1.6M418.06,24.8v-1.6M420.62,24.8v-1.6" stroke="#262626" stroke-width="0.6" fill="none"/>
<defs><clipPath id="clipc"><rect x="373" y="34.4" width="114.6" height="106.1"/></clipPath><linearGradient id="cbgc" x1="0" x2="0" y1="0" y2="1"><stop offset="0" stop-color="#d43a0b"/><stop offset="0.6" stop-color="#d63c0b"/><stop offset="0.88" stop-color="#e2500e"/><stop offset="1" stop-color="#f07a1a"/></linearGradient></defs>
<g clip-path="url(#clipc)">
<rect x="373" y="34" width="115" height="107" fill="url(#cbgc)"/>
<g filter="url(#b1)" opacity="0.5"><rect x="384" y="34" width="3" height="100" fill="#c83208"/><rect x="398" y="34" width="4" height="100" fill="#dc420c"/><rect x="452" y="34" width="5" height="90" fill="#cc3408"/><rect x="470" y="34" width="4" height="100" fill="#d8400c"/></g>
<path d="M420,34 L428,34 L427,106 L423,108z" fill="#b42806" opacity="0.75" filter="url(#b1)"/>
<path d="M428,34 L433,34 L431,100 L428,100z" fill="#e04c10" opacity="0.6" filter="url(#b1)"/>
<g filter="url(#b2)"><path d="M373,118 L392,136 L373,136z" fill="#f27a22" opacity="0.8"/><path d="M462,136 L487.6,118 L487.6,136z" fill="#ee6a1c" opacity="0.8"/><rect x="373" y="130" width="115" height="6" fill="#f48a28" opacity="0.8"/></g>
<g filter="url(#b1)"><path d="M392,124 Q410,112 424,107 L425,112 Q410,117 396,126z" fill="#c02e08" opacity="0.8"/><path d="M380,136 Q386,118 404,112 Q390,122 386,136z" fill="#c83408" opacity="0.6"/></g>
<g filter="url(#b15)"><path d="M386,136 Q392,121 412,118 Q427,119 433,136z" fill="#f29030"/></g>
<g filter="url(#b1)"><path d="M393,136 Q401,126 414,125 Q423,127 427,136z" fill="#fab444"/><path d="M400,136 Q406,130 414,130 Q420,131 422,136z" fill="#fcc850" opacity="0.8"/></g>
<path d="M389,134 Q396,123 414,120.5 Q426,121 431,132" stroke="#fcc050" stroke-width="0.8" fill="none" opacity="0.6" filter="url(#b05)"/>
<g filter="url(#b05)"><path d="M423,113 Q430,106 442,107 Q454,110 458,120 Q461,128 462,136 L438,136 Q432,128 428,122 Q424,117 423,113z" fill="#b42a08"/></g>
<g filter="url(#b1)"><path d="M426,115 Q432,109 440,110 Q434,118 436,136 L432,136 Q427,124 426,115z" fill="#d03e0e" opacity="0.85"/><path d="M444,127 Q452,128 455,134 L447,136z" fill="#e05a1a" opacity="0.8"/></g>
<path d="M388,136.2 Q392,132 402,131.5 Q414,131.5 420,132.2 Q428,131 434,136.2" stroke="#38d8b0" stroke-width="1.2" fill="none" filter="url(#b03)"/>
<path d="M392,136.4 Q398,133.6 406,133.2 Q414,133.2 420,134 L420,136.4z" fill="#2a48b8" opacity="0.8" filter="url(#b03)"/>
<path d="M419,136.4 Q421,132.5 426,132.2 Q431,132.6 432,136.4z" fill="#2a2a90" stroke="#30c8e0" stroke-width="0.7" filter="url(#b03)"/>
<path d="M437,114 Q444,112.6 450,117.5 Q456,123.5 459.5,132 L461.5,136.4 L457.5,136.4 Q454,131 449,126.5 Q442,122 438,118.5z" fill="#2a5ad8" stroke="#38e0c8" stroke-width="1.3" stroke-linejoin="round" filter="url(#b03)"/>
<path d="M441,116 Q448,117.5 453,123.5 Q456,128 458,133" stroke="#241c80" stroke-width="1.3" fill="none" filter="url(#b03)"/>
<path d="M440,123 Q447,127 452,135.5" stroke="#50e098" stroke-width="0.9" fill="none" filter="url(#b03)"/>
<path d="M373,134.6 L487.6,134.6" stroke="#f8c848" stroke-width="1.1" filter="url(#b03)"/>
<path d="M373,135.8 L380,135.4 L386,136 L394,135.2 L402,135.6 L410,135.0 L420,135.8 L430,135.2 L440,135.6 L450,135.0 L460,135.6 L470,135.3 L487.6,135.5 L487.6,141 L373,141z" fill="#2e1a48"/>
</g>
<rect x="373.0" y="34.4" width="114.60000000000002" height="106.1" fill="none" stroke="#262626" stroke-width="0.9"/>
<path d="M373.00,140.5v3.2M408.81,140.5v3.2M444.62,140.5v3.2M480.44,140.5v3.2M380.16,140.5v1.8M387.32,140.5v1.8M394.49,140.5v1.8M401.65,140.5v1.8M415.98,140.5v1.8M423.14,140.5v1.8M430.30,140.5v1.8M437.46,140.5v1.8M451.79,140.5v1.8M458.95,140.5v1.8M466.11,140.5v1.8M473.28,140.5v1.8M487.60,140.5v1.8" stroke="#262626" stroke-width="0.7" fill="none"/>
<path d="M373.0,140.50h-3.2M373.0,105.13h-3.2M373.0,69.77h-3.2M373.0,34.40h-3.2M373.0,133.43h-1.8M373.0,126.35h-1.8M373.0,119.28h-1.8M373.0,112.21h-1.8M373.0,98.06h-1.8M373.0,90.99h-1.8M373.0,83.91h-1.8M373.0,76.84h-1.8M373.0,62.69h-1.8M373.0,55.62h-1.8M373.0,48.55h-1.8M373.0,41.47h-1.8" stroke="#262626" stroke-width="0.7" fill="none"/>
<path d="M487.6,140.50h3.2M487.6,105.13h3.2M487.6,69.77h3.2M487.6,34.40h3.2M487.6,133.43h1.8M487.6,126.35h1.8M487.6,119.28h1.8M487.6,112.21h1.8M487.6,98.06h1.8M487.6,90.99h1.8M487.6,83.91h1.8M487.6,76.84h1.8M487.6,62.69h1.8M487.6,55.62h1.8M487.6,48.55h1.8M487.6,41.47h1.8" stroke="#262626" stroke-width="0.7" fill="none"/>
<text x="373.0" y="152.5" font-size="8.6" text-anchor="middle" fill="#1a1a1a" stroke="#1a1a1a" stroke-width="0.15" textLength="5.2" lengthAdjust="spacingAndGlyphs" >0</text>
<text x="408.8125" y="152.5" font-size="8.6" text-anchor="middle" fill="#1a1a1a" stroke="#1a1a1a" stroke-width="0.15" textLength="9.6" lengthAdjust="spacingAndGlyphs" >10</text>
<text x="444.625" y="152.5" font-size="8.6" text-anchor="middle" fill="#1a1a1a" stroke="#1a1a1a" stroke-width="0.15" textLength="9.6" lengthAdjust="spacingAndGlyphs" >20</text>
<text x="480.4375" y="152.5" font-size="8.6" text-anchor="middle" fill="#1a1a1a" stroke="#1a1a1a" stroke-width="0.15" textLength="9.6" lengthAdjust="spacingAndGlyphs" >30</text>
<text x="430.8" y="162.1" font-size="8.6" text-anchor="middle" fill="#1a1a1a" stroke="#1a1a1a" stroke-width="0.15" textLength="28.5" lengthAdjust="spacingAndGlyphs" >x (Mm)</text>
<rect x="442.3" y="40.1" width="39.3" height="10.2" rx="1.2" fill="#fbe8e2" fill-opacity="0.92" stroke="#d8b8b0" stroke-width="0.7"/>
<text x="444.2" y="48.2" font-size="8.4" text-anchor="start" fill="#1a1a1a" stroke="#1a1a1a" stroke-width="0.15" textLength="35.6" lengthAdjust="spacingAndGlyphs" >y=16 Mm</text>
<path d="M403.5,72.8 L424.5,95" stroke="#949494" stroke-width="0.9"/>
<polygon points="424.5,95 420.99,93.54 423.24,91.41" fill="#949494"/>
<rect x="383" y="65.6" width="22.6" height="7.2" rx="1.2" fill="#fbf0ee" fill-opacity="0.9" stroke="#a0a0a0" stroke-width="0.6"/>
<text x="394.3" y="71.39999999999999" font-size="5.8" text-anchor="middle" fill="#2a2a2a" stroke="#2a2a2a" stroke-width="0.05" textLength="19.5" lengthAdjust="spacingAndGlyphs" >Dark jet</text>
<path d="M460,100.8 L446,114" stroke="#949494" stroke-width="0.9"/>
<polygon points="446,114 447.46,110.49 449.59,112.75" fill="#949494"/>
<rect x="454" y="88.4" width="23.6" height="12.4" rx="1.2" fill="#fbf0ee" fill-opacity="0.9" stroke="#a0a0a0" stroke-width="0.6"/>
<text x="465.8" y="93.9" font-size="5.8" text-anchor="middle" fill="#2a2a2a" stroke="#2a2a2a" stroke-width="0.05" textLength="18.5" lengthAdjust="spacingAndGlyphs" >Erupting</text>
<text x="465.8" y="99.7" font-size="5.8" text-anchor="middle" fill="#2a2a2a" stroke="#2a2a2a" stroke-width="0.05" textLength="17.5" lengthAdjust="spacingAndGlyphs" >Hα fibril</text>
<text x="755" y="0" font-size="1" text-anchor="start" fill="#1a1a1a" stroke="#1a1a1a" stroke-width="0.15" ></text>
<text x="496.5" y="9.0" font-size="8.3" text-anchor="start" fill="#1a1a1a" stroke="#1a1a1a" stroke-width="0.15" textLength="11.0" lengthAdjust="spacingAndGlyphs" >(d)</text>
<text x="532.1" y="8.7" font-size="8.4" stroke="#1a1a1a" stroke-width="0.15" fill="#1a1a1a" textLength="43.6" lengthAdjust="spacingAndGlyphs"><tspan font-style="italic">ρ</tspan> (g cm<tspan font-size="5.7" dy="-3.4">−3</tspan><tspan dy="3.4">)</tspan></text>
<text x="490.0" y="17.5" font-size="8.2" fill="#1a1a1a" stroke="#1a1a1a" stroke-width="0.15"><tspan textLength="9.6" lengthAdjust="spacingAndGlyphs">10</tspan><tspan font-size="5.9" dy="-2.5" textLength="12" lengthAdjust="spacingAndGlyphs">−15</tspan></text>
<text x="530.7" y="17.5" font-size="8.2" fill="#1a1a1a" stroke="#1a1a1a" stroke-width="0.15"><tspan textLength="9.6" lengthAdjust="spacingAndGlyphs">10</tspan><tspan font-size="5.9" dy="-2.5" textLength="12" lengthAdjust="spacingAndGlyphs">−14</tspan></text>
<text x="571.8" y="17.5" font-size="8.2" fill="#1a1a1a" stroke="#1a1a1a" stroke-width="0.15"><tspan textLength="9.6" lengthAdjust="spacingAndGlyphs">10</tspan><tspan font-size="5.9" dy="-2.5" textLength="12" lengthAdjust="spacingAndGlyphs">−13</tspan></text>
<defs><linearGradient id="cbd" x1="0" x2="1" y1="0" y2="0"><stop offset="0" stop-color="#fbf8f8"/><stop offset="0.12" stop-color="#d8c8c4"/><stop offset="0.25" stop-color="#8c6450"/><stop offset="0.36" stop-color="#a08c50"/><stop offset="0.5" stop-color="#f0f088"/><stop offset="0.6" stop-color="#a8e060"/><stop offset="0.68" stop-color="#30c040"/><stop offset="0.8" stop-color="#1090e8"/><stop offset="0.9" stop-color="#1e50c0"/><stop offset="1" stop-color="#1a2a88"/></linearGradient></defs>
<rect x="496.4" y="24.8" width="114.60000000000002" height="6.699999999999999" fill="url(#cbd)" stroke="#262626" stroke-width="0.8"/>
<path d="M498.60,24.8v-3M540.50,24.8v-3M582.40,24.8v-3M511.21,24.8v-1.6M518.59,24.8v-1.6M523.83,24.8v-1.6M527.89,24.8v-1.6M531.20,24.8v-1.6M534.01,24.8v-1.6M536.44,24.8v-1.6M538.58,24.8v-1.6M553.11,24.8v-1.6M560.49,24.8v-1.6M565.73,24.8v-1.6M569.79,24.8v-1.6M573.10,24.8v-1.6M575.91,24.8v-1.6M578.34,24.8v-1.6M580.48,24.8v-1.6M595.01,24.8v-1.6M602.39,24.8v-1.6M607.63,24.8v-1.6" stroke="#262626" stroke-width="0.6" fill="none"/>
<defs><clipPath id="clipd"><rect x="496.4" y="34.4" width="114.6" height="106.1"/></clipPath></defs>
<g clip-path="url(#clipd)">
<rect x="496" y="34" width="116" height="107" fill="#fefdfd"/>
<g filter="url(#b2)" opacity="0.5"><path d="M500,136 L506,80 L512,136z" fill="#e8dcda"/><path d="M590,136 L594,70 L600,136z" fill="#ece2e0"/></g>
<g filter="url(#b2)"><path d="M544,34 L551,34 L551,110 L536,112 Q542,80 544,34z" fill="#eee4e2"/></g>
<path d="M546,34 L549,34 L549,108 L544,108 Q546,70 546,34z" fill="#e4d8d6" opacity="0.7" filter="url(#b1)"/>
<g filter="url(#b05)"><path d="M508,137 Q512,124 524,116 Q536,110 546,109.5 Q556,107 566,110 Q578,116 583,126 Q586,131 587,137z" fill="#917872"/></g>
<g filter="url(#b15)"><path d="M518,137 Q521,126 532,120 Q542,116 548,121 Q547,130 547,137z" fill="#fcfbfb"/><path d="M543,117 Q548,111 552,112 Q554,122 552,137 L546,137 Q544,126 543,117z" fill="#d6cac6"/><path d="M554,114 Q564,110 572,114 Q578,118 580,124 Q572,116 562,118 Q556,121 554,126z" fill="#f2eeec"/><path d="M556,122 Q568,118 578,128 Q582,133 582,137 L554,137z" fill="#a48c86"/></g>
<g filter="url(#b05)"><path d="M557,124 Q566,120.5 573,124 Q578,128 580,134 L576,134 Q571,127 563,126 Q559,126 557,124z" fill="#cdbb66"/><path d="M559,130 Q566,127.5 571,132 L572,136 L566,136 Q563,132 559,130z" fill="#d4c46c"/><ellipse cx="563" cy="124" rx="2.4" ry="1.2" fill="#e4ec78"/></g>
<path d="M510,137 Q518,130.5 528,133 L530,137z M538,137 Q546,131 556,134 L558,137z M574,137 Q580,133 586,135 L588,137z" fill="#e4dc70" filter="url(#b03)"/>
<path d="M496,136.2 L506,135.4 L516,134.2 L526,135 L536,135.4 L546,134.6 L556,135.4 L566,135.8 L576,135 L586,135.8 L611,136 L611,141 L496,141z" fill="#40b878"/>
<path d="M496,136.8 L516,135.4 L536,136 L556,136 L586,136.4 L611,136.6 L611,141 L496,141z" fill="#2050c0"/>
<path d="M496,137.6 L611,137.6 L611,141 L496,141z" fill="#1a2a88"/>
</g>
<rect x="496.4" y="34.4" width="114.60000000000002" height="106.1" fill="none" stroke="#262626" stroke-width="0.9"/>
<path d="M496.40,140.5v3.2M532.21,140.5v3.2M568.02,140.5v3.2M603.84,140.5v3.2M503.56,140.5v1.8M510.72,140.5v1.8M517.89,140.5v1.8M525.05,140.5v1.8M539.38,140.5v1.8M546.54,140.5v1.8M553.70,140.5v1.8M560.86,140.5v1.8M575.19,140.5v1.8M582.35,140.5v1.8M589.51,140.5v1.8M596.67,140.5v1.8M611.00,140.5v1.8" stroke="#262626" stroke-width="0.7" fill="none"/>
<path d="M496.4,140.50h-3.2M496.4,105.13h-3.2M496.4,69.77h-3.2M496.4,34.40h-3.2M496.4,133.43h-1.8M496.4,126.35h-1.8M496.4,119.28h-1.8M496.4,112.21h-1.8M496.4,98.06h-1.8M496.4,90.99h-1.8M496.4,83.91h-1.8M496.4,76.84h-1.8M496.4,62.69h-1.8M496.4,55.62h-1.8M496.4,48.55h-1.8M496.4,41.47h-1.8" stroke="#262626" stroke-width="0.7" fill="none"/>
<path d="M611.0,140.50h3.2M611.0,105.13h3.2M611.0,69.77h3.2M611.0,34.40h3.2M611.0,133.43h1.8M611.0,126.35h1.8M611.0,119.28h1.8M611.0,112.21h1.8M611.0,98.06h1.8M611.0,90.99h1.8M611.0,83.91h1.8M611.0,76.84h1.8M611.0,62.69h1.8M611.0,55.62h1.8M611.0,48.55h1.8M611.0,41.47h1.8" stroke="#262626" stroke-width="0.7" fill="none"/>
<text x="496.4" y="152.5" font-size="8.6" text-anchor="middle" fill="#1a1a1a" stroke="#1a1a1a" stroke-width="0.15" textLength="5.2" lengthAdjust="spacingAndGlyphs" >0</text>
<text x="532.2125" y="152.5" font-size="8.6" text-anchor="middle" fill="#1a1a1a" stroke="#1a1a1a" stroke-width="0.15" textLength="9.6" lengthAdjust="spacingAndGlyphs" >10</text>
<text x="568.025" y="152.5" font-size="8.6" text-anchor="middle" fill="#1a1a1a" stroke="#1a1a1a" stroke-width="0.15" textLength="9.6" lengthAdjust="spacingAndGlyphs" >20</text>
<text x="603.8375" y="152.5" font-size="8.6" text-anchor="middle" fill="#1a1a1a" stroke="#1a1a1a" stroke-width="0.15" textLength="9.6" lengthAdjust="spacingAndGlyphs" >30</text>
<text x="554.2" y="162.1" font-size="8.6" text-anchor="middle" fill="#1a1a1a" stroke="#1a1a1a" stroke-width="0.15" textLength="28.5" lengthAdjust="spacingAndGlyphs" >x (Mm)</text>
<rect x="565.3" y="40.1" width="39.3" height="10.2" rx="1.2" fill="#ffffff" fill-opacity="0.92" stroke="#c4c4c4" stroke-width="0.7"/>
<text x="567.2" y="48.2" font-size="8.4" text-anchor="start" fill="#1a1a1a" stroke="#1a1a1a" stroke-width="0.15" textLength="35.6" lengthAdjust="spacingAndGlyphs" >y=16 Mm</text>
<path d="M526.9,72.8 L547.5,95" stroke="#949494" stroke-width="0.9"/>
<polygon points="547.5,95 544.00,93.51 546.28,91.40" fill="#949494"/>
<rect x="506.4" y="65.6" width="22.6" height="7.2" rx="1.2" fill="#ffffff" fill-opacity="0.9" stroke="#a0a0a0" stroke-width="0.6"/>
<text x="517.6999999999999" y="71.39999999999999" font-size="5.8" text-anchor="middle" fill="#2a2a2a" stroke="#2a2a2a" stroke-width="0.05" textLength="19.5" lengthAdjust="spacingAndGlyphs" >Dark jet</text>
<path d="M583.4,100.8 L569.4,114" stroke="#949494" stroke-width="0.9"/>
<polygon points="569.4,114 570.86,110.49 572.99,112.75" fill="#949494"/>
<rect x="577.4" y="88.4" width="23.6" height="12.4" rx="1.2" fill="#ffffff" fill-opacity="0.9" stroke="#a0a0a0" stroke-width="0.6"/>
<text x="589.1999999999999" y="93.9" font-size="5.8" text-anchor="middle" fill="#2a2a2a" stroke="#2a2a2a" stroke-width="0.05" textLength="18.5" lengthAdjust="spacingAndGlyphs" >Erupting</text>
<text x="589.1999999999999" y="99.7" font-size="5.8" text-anchor="middle" fill="#2a2a2a" stroke="#2a2a2a" stroke-width="0.05" textLength="17.5" lengthAdjust="spacingAndGlyphs" >Hα fibril</text>
<text x="620.3" y="9.0" font-size="8.3" text-anchor="start" fill="#1a1a1a" stroke="#1a1a1a" stroke-width="0.15" textLength="10.9" lengthAdjust="spacingAndGlyphs" >(e)</text>
<text x="654" y="8.7" font-size="8.4" stroke="#1a1a1a" stroke-width="0.15" fill="#1a1a1a" textLength="46" lengthAdjust="spacingAndGlyphs"><tspan font-style="italic">u</tspan><tspan font-size="5.7" font-style="italic" dy="1.5">z</tspan><tspan dy="-1.5"> (km s</tspan><tspan font-size="5.7" dy="-3.4">−1</tspan><tspan dy="3.4">)</tspan></text>
<text x="639.3" y="16.6" font-size="8.4" text-anchor="middle" fill="#1a1a1a" stroke="#1a1a1a" stroke-width="0.15" textLength="16.2" lengthAdjust="spacingAndGlyphs" >−50</text>
<text x="677.0" y="16.6" font-size="8.4" text-anchor="middle" fill="#1a1a1a" stroke="#1a1a1a" stroke-width="0.15" textLength="5.6" lengthAdjust="spacingAndGlyphs" >0</text>
<text x="715.6" y="16.6" font-size="8.4" text-anchor="middle" fill="#1a1a1a" stroke="#1a1a1a" stroke-width="0.15" textLength="11.2" lengthAdjust="spacingAndGlyphs" >50</text>
<defs><linearGradient id="cbe" x1="0" x2="1" y1="0" y2="0"><stop offset="0" stop-color="#ff0000"/><stop offset="0.15" stop-color="#ff3030"/><stop offset="0.5" stop-color="#fafafa"/><stop offset="0.85" stop-color="#3030ff"/><stop offset="1" stop-color="#0000f0"/></linearGradient></defs>
<rect x="620.1" y="24.8" width="114.60000000000002" height="6.199999999999999" fill="url(#cbe)" stroke="#262626" stroke-width="0.8"/>
<path d="M639.00,24.8v-3M677.20,24.8v-3M715.40,24.8v-3M623.72,24.8v-1.6M631.36,24.8v-1.6M646.64,24.8v-1.6M654.28,24.8v-1.6M661.92,24.8v-1.6M669.56,24.8v-1.6M684.84,24.8v-1.6M692.48,24.8v-1.6M700.12,24.8v-1.6M707.76,24.8v-1.6M723.04,24.8v-1.6M730.68,24.8v-1.6" stroke="#262626" stroke-width="0.6" fill="none"/>
<defs><clipPath id="clipe"><rect x="620.1" y="34.4" width="114.6" height="106.1"/></clipPath><linearGradient id="ebg" x1="0" x2="1" y1="0" y2="0"><stop offset="0" stop-color="#fbe4e4"/><stop offset="0.12" stop-color="#fad8d8"/><stop offset="0.3" stop-color="#fbe6e6"/><stop offset="0.68" stop-color="#f4f4fc"/><stop offset="0.76" stop-color="#fdfbfb"/><stop offset="0.84" stop-color="#f9d4d4"/><stop offset="1" stop-color="#f7caca"/></linearGradient></defs>
<g clip-path="url(#clipe)">
<rect x="620" y="34" width="116" height="107" fill="url(#ebg)"/>
<defs><linearGradient id="ejet" x1="0" x2="0" y1="0" y2="1"><stop offset="0" stop-color="#8088f0"/><stop offset="0.45" stop-color="#6470f0"/><stop offset="0.7" stop-color="#3040f0"/><stop offset="1" stop-color="#0818f0"/></linearGradient></defs>
<g filter="url(#b1)"><path d="M655,34 L706,34 Q703,70 697,104 L666,106 Q659,70 655,34z" fill="#d4d8f8"/><path d="M684,34 L706,34 Q703,70 697,104 L684,104z" fill="#e4e6fa" opacity="0.9"/></g>
<g filter="url(#b1)"><path d="M667,34 L685,34 Q684,70 682,104 L670,104 Q669,70 667,34z" fill="#9ca4f2"/></g>
<path d="M663,34 L667,34 Q668,70 670,104 L667,104 Q664,70 663,34z" fill="#f2f2fe" opacity="0.95" filter="url(#b05)"/>
<path d="M671,34 L677,34 Q678,70 676.5,106 Q674,109 672,108 Q672,70 671,34z" fill="url(#ejet)" filter="url(#b05)"/>
<path d="M676,70 L683,70 Q682,85 679,104 L676,104z" fill="#6070f0" opacity="0.5" filter="url(#b1)"/>
<path d="M666.5,109.5 L672,108.5 L670,117 z" fill="#e42424" filter="url(#b03)"/>
<g filter="url(#b15)"><path d="M640,137 Q648,120 668,113 Q692,113 707,137z" fill="#e4e6fa"/><path d="M652,98 L661,98 Q650,112 644,128 L637,126 Q644,110 652,98z" fill="#ccd2f8" opacity="0.9"/><path d="M646,134 Q654,124 666,122 Q660,130 656,137z" fill="#f2f0fc" opacity="0.9"/></g>
<g filter="url(#b1)" fill="none"><path d="M634,137 Q641,119 667,112.5" stroke="#f2b4b4" stroke-width="2.2"/><path d="M680,111 Q702,116 711,137" stroke="#f2bcbc" stroke-width="2.0"/><path d="M685,117 Q698,121 705,135" stroke="#f4c8c8" stroke-width="1.2"/><path d="M670,113 Q678,122 686,134" stroke="#aab2f4" stroke-width="4"/><path d="M676,110 Q690,109 700,116" stroke="#c8cef8" stroke-width="3" opacity="0.8"/><path d="M656,135 Q666,137 674,135" stroke="#f4cccc" stroke-width="1.5" opacity="0.8"/></g>
</g>
<rect x="620.1" y="34.4" width="114.60000000000002" height="106.1" fill="none" stroke="#262626" stroke-width="0.9"/>
<path d="M620.10,140.5v3.2M655.91,140.5v3.2M691.73,140.5v3.2M727.54,140.5v3.2M627.26,140.5v1.8M634.43,140.5v1.8M641.59,140.5v1.8M648.75,140.5v1.8M663.08,140.5v1.8M670.24,140.5v1.8M677.40,140.5v1.8M684.56,140.5v1.8M698.89,140.5v1.8M706.05,140.5v1.8M713.21,140.5v1.8M720.38,140.5v1.8M734.70,140.5v1.8" stroke="#262626" stroke-width="0.7" fill="none"/>
<path d="M620.1,140.50h-3.2M620.1,105.13h-3.2M620.1,69.77h-3.2M620.1,34.40h-3.2M620.1,133.43h-1.8M620.1,126.35h-1.8M620.1,119.28h-1.8M620.1,112.21h-1.8M620.1,98.06h-1.8M620.1,90.99h-1.8M620.1,83.91h-1.8M620.1,76.84h-1.8M620.1,62.69h-1.8M620.1,55.62h-1.8M620.1,48.55h-1.8M620.1,41.47h-1.8" stroke="#262626" stroke-width="0.7" fill="none"/>
<path d="M734.7,140.50h3.2M734.7,105.13h3.2M734.7,69.77h3.2M734.7,34.40h3.2M734.7,133.43h1.8M734.7,126.35h1.8M734.7,119.28h1.8M734.7,112.21h1.8M734.7,98.06h1.8M734.7,90.99h1.8M734.7,83.91h1.8M734.7,76.84h1.8M734.7,62.69h1.8M734.7,55.62h1.8M734.7,48.55h1.8M734.7,41.47h1.8" stroke="#262626" stroke-width="0.7" fill="none"/>
<text x="620.1" y="152.5" font-size="8.6" text-anchor="middle" fill="#1a1a1a" stroke="#1a1a1a" stroke-width="0.15" textLength="5.2" lengthAdjust="spacingAndGlyphs" >0</text>
<text x="655.9125" y="152.5" font-size="8.6" text-anchor="middle" fill="#1a1a1a" stroke="#1a1a1a" stroke-width="0.15" textLength="9.6" lengthAdjust="spacingAndGlyphs" >10</text>
<text x="691.725" y="152.5" font-size="8.6" text-anchor="middle" fill="#1a1a1a" stroke="#1a1a1a" stroke-width="0.15" textLength="9.6" lengthAdjust="spacingAndGlyphs" >20</text>
<text x="727.5375" y="152.5" font-size="8.6" text-anchor="middle" fill="#1a1a1a" stroke="#1a1a1a" stroke-width="0.15" textLength="9.6" lengthAdjust="spacingAndGlyphs" >30</text>
<text x="677.9000000000001" y="162.1" font-size="8.6" text-anchor="middle" fill="#1a1a1a" stroke="#1a1a1a" stroke-width="0.15" textLength="28.5" lengthAdjust="spacingAndGlyphs" >x (Mm)</text>
<rect x="689.4" y="40.1" width="39.3" height="10.2" rx="1.2" fill="#ffffff" fill-opacity="0.9" stroke="#c4c4c4" stroke-width="0.7"/>
<text x="691.3" y="48.2" font-size="8.4" text-anchor="start" fill="#1a1a1a" stroke="#1a1a1a" stroke-width="0.15" textLength="35.6" lengthAdjust="spacingAndGlyphs" >y=16 Mm</text>
<path d="M651,72.8 L671.5,95" stroke="#949494" stroke-width="0.9"/>
<polygon points="671.5,95 668.01,93.50 670.28,91.40" fill="#949494"/>
<rect x="630.5" y="65.6" width="22.6" height="7.2" rx="1.2" fill="#ffffff" fill-opacity="0.9" stroke="#a0a0a0" stroke-width="0.6"/>
<text x="641.8" y="71.39999999999999" font-size="5.8" text-anchor="middle" fill="#2a2a2a" stroke="#2a2a2a" stroke-width="0.05" textLength="19.5" lengthAdjust="spacingAndGlyphs" >Dark jet</text>
<text x="740.8" y="108.23333333333332" font-size="8.6" text-anchor="start" fill="#1a1a1a" stroke="#1a1a1a" stroke-width="0.15" textLength="9.8" lengthAdjust="spacingAndGlyphs" >10</text>
<text x="740.8" y="72.86666666666666" font-size="8.6" text-anchor="start" fill="#1a1a1a" stroke="#1a1a1a" stroke-width="0.15" textLength="9.8" lengthAdjust="spacingAndGlyphs" >20</text>
<text x="740.8" y="37.50000000000001" font-size="8.6" text-anchor="start" fill="#1a1a1a" stroke="#1a1a1a" stroke-width="0.15" textLength="9.8" lengthAdjust="spacingAndGlyphs" >30</text>
<text transform="translate(757.8,86.6) rotate(-90)" font-size="9.2" text-anchor="middle" fill="#1a1a1a" stroke="#1a1a1a" stroke-width="0.15" textLength="27.6" lengthAdjust="spacingAndGlyphs">z (Mm)</text>
<text x="249.4" y="187.0" font-size="8.2" text-anchor="start" fill="#1a1a1a" stroke="#1a1a1a" stroke-width="0.15" textLength="9.0" lengthAdjust="spacingAndGlyphs" >(f)</text>
<text x="270.3" y="186.6" font-size="10.2" text-anchor="start" fill="#1a1a1a" stroke="#1a1a1a" stroke-width="0.15" textLength="72.7" lengthAdjust="spacingAndGlyphs" >Synth. SDO/AIA</text>
<text x="253.7" y="195.9" font-size="9.0" fill="#1a1a1a" stroke="#1a1a1a" stroke-width="0.15"><tspan textLength="9.9" lengthAdjust="spacingAndGlyphs">10</tspan><tspan font-size="6.30" dy="-3.4">2</tspan></text>
<text x="323.5" y="195.9" font-size="9.0" fill="#1a1a1a" stroke="#1a1a1a" stroke-width="0.15"><tspan textLength="9.9" lengthAdjust="spacingAndGlyphs">10</tspan><tspan font-size="6.30" dy="-3.4">3</tspan></text>
<defs><linearGradient id="cbf" x1="0" x2="1" y1="0" y2="0"><stop offset="0" stop-color="#000000"/><stop offset="0.2" stop-color="#3a1400"/><stop offset="0.45" stop-color="#8a4414"/><stop offset="0.65" stop-color="#c07a3a"/><stop offset="0.85" stop-color="#ecc8a0"/><stop offset="1" stop-color="#ffffff"/></linearGradient></defs>
<rect x="249.2" y="202.6" width="114.80000000000001" height="6.200000000000017" fill="url(#cbf)" stroke="#262626" stroke-width="0.8"/>
<path d="M260.00,202.6v-3M330.30,202.6v-3M253.19,202.6v-1.6M256.78,202.6v-1.6M281.16,202.6v-1.6M293.54,202.6v-1.6M302.32,202.6v-1.6M309.14,202.6v-1.6M314.70,202.6v-1.6M319.41,202.6v-1.6M323.49,202.6v-1.6M327.08,202.6v-1.6M351.46,202.6v-1.6" stroke="#262626" stroke-width="0.6" fill="none"/>
<defs><clipPath id="clipf"><rect x="249.2" y="212" width="114.8" height="89.6"/></clipPath><linearGradient id="fbg" x1="0" x2="0" y1="0" y2="1"><stop offset="0" stop-color="#000"/><stop offset="0.35" stop-color="#1a0800"/><stop offset="0.6" stop-color="#4a2008"/><stop offset="1" stop-color="#7a4a20"/></linearGradient><radialGradient id="fdome" cx="0.5" cy="1" r="0.75"><stop offset="0" stop-color="#fff4e0"/><stop offset="0.45" stop-color="#f0d0a0"/><stop offset="0.8" stop-color="#c08a50"/><stop offset="1" stop-color="#9a5a28"/></radialGradient></defs>
<defs><linearGradient id="spk" x1="0" x2="0" y1="0" y2="1"><stop offset="0" stop-color="#3a1404"/><stop offset="0.45" stop-color="#6a300c"/><stop offset="1" stop-color="#84481c"/></linearGradient><linearGradient id="fbg2" x1="0" x2="0" y1="0" y2="1"><stop offset="0" stop-color="#000"/><stop offset="0.38" stop-color="#160700"/><stop offset="0.6" stop-color="#582a0c"/><stop offset="1" stop-color="#6e3a14"/></linearGradient></defs>
<g clip-path="url(#clipf)">
<rect x="249" y="212" width="116" height="90" fill="url(#fbg2)"/>
<g filter="url(#b1)">
<path d="M269.0,302 Q285.5,258.4 291.0,214.7 Q296.5,258.4 313.0,302z" fill="url(#spk)" opacity="0.8"/>
<path d="M287.0,302 Q302.0,262.4 307.0,222.7 Q312.0,262.4 327.0,302z" fill="url(#spk)" opacity="0.8"/>
<path d="M301.0,302 Q313.0,264.0 317.0,226 Q321.0,264.0 333.0,302z" fill="url(#spk)" opacity="0.8"/>
<path d="M321.0,302 Q336.0,265.5 341.0,229 Q346.0,265.5 361.0,302z" fill="url(#spk)" opacity="0.8"/>
<path d="M340.0,302 Q353.5,265.0 358.0,228 Q362.5,265.0 376.0,302z" fill="url(#spk)" opacity="0.8"/>
<path d="M312.0,302 Q325.5,269.0 330.0,236 Q334.5,269.0 348.0,302z" fill="url(#spk)" opacity="0.8"/>
<path d="M250.0,302 Q266.5,267.5 272.0,233 Q277.5,267.5 294.0,302z" fill="url(#spk)" opacity="0.8"/>
<path d="M276.0,302 Q294.0,270.0 300.0,238 Q306.0,270.0 324.0,302z" fill="url(#spk)" opacity="0.8"/>
<path d="M353.0,302 Q362.0,258.5 365.0,215 Q368.0,258.5 377.0,302z" fill="url(#spk)" opacity="0.8"/>
</g>
<g filter="url(#b1)" opacity="0.35" stroke="#a06030" stroke-width="1" fill="none"><path d="M291,220 L292,290"/><path d="M307,226 L305,290"/><path d="M341,232 L340,290"/><path d="M317,230 L318,290"/><path d="M358,232 L356,290"/></g>
<path d="M249,212 L266,212 Q260,240 262,268 L249,276z" fill="#000" filter="url(#b2)"/>
<g filter="url(#b1)"><path d="M260.5,298 A37.5,26.5 0 0 1 335.5,298z" fill="#c09468"/></g>
<g filter="url(#b15)"><path d="M263,298 A35,24 0 0 1 333,298z" fill="#dcbc94"/><path d="M268,298 A30,19 0 0 1 328,298z" fill="#ead4b4"/><path d="M274,298 A22,13 0 0 1 318,298z" fill="#f4e6d2"/></g>
<g filter="url(#b05)" fill="none" stroke="#f8eee0" stroke-width="0.9" opacity="0.45"><path d="M276,296 Q284,286 300,284"/><path d="M314,296 Q314,284 320,282 Q328,286 328,296"/><path d="M286,296 Q296,288 310,292"/></g>
<g filter="url(#b15)"><ellipse cx="292" cy="294" rx="14" ry="3.5" fill="#fbf2e4" opacity="0.8"/></g>
<polygon points="249.0,297.4 249.0,297.0 252.0,297.2 255.0,297.3 258.0,297.1 261.0,297.2 264.0,296.9 267.0,296.8 270.0,296.6 273.0,297.3 276.0,296.9 279.0,297.0 282.0,297.0 285.0,296.8 288.0,297.0 291.0,296.9 294.0,297.3 297.0,296.9 300.0,296.7 303.0,297.1 306.0,296.8 309.0,296.8 312.0,296.8 315.0,296.7 318.0,296.9 321.0,297.1 324.0,297.3 327.0,296.6 330.0,297.0 333.0,296.9 336.0,296.8 339.0,296.9 342.0,296.8 345.0,297.0 348.0,297.3 351.0,296.8 354.0,296.7 357.0,297.2 360.0,297.1 363.0,297.0 364.0,297.3 364.0,302.0 249.0,302.0" fill="#000"/>
<path d="M266,297.5 Q272,294.6 278,296.8 L282,297.4z" fill="#000"/>
</g>
<rect x="249.2" y="212.0" width="114.80000000000001" height="89.60000000000002" fill="none" stroke="#262626" stroke-width="0.9"/>
<path d="M249.20,301.6v3.2M285.07,301.6v3.2M320.95,301.6v3.2M356.82,301.6v3.2M256.38,301.6v1.8M263.55,301.6v1.8M270.72,301.6v1.8M277.90,301.6v1.8M292.25,301.6v1.8M299.43,301.6v1.8M306.60,301.6v1.8M313.77,301.6v1.8M328.12,301.6v1.8M335.30,301.6v1.8M342.48,301.6v1.8M349.65,301.6v1.8M364.00,301.6v1.8" stroke="#262626" stroke-width="0.7" fill="none"/>
<path d="M249.2,267.60h-3.2M249.2,232.41h-3.2M249.2,295.76h-1.8M249.2,288.72h-1.8M249.2,281.68h-1.8M249.2,274.64h-1.8M249.2,260.57h-1.8M249.2,253.53h-1.8M249.2,246.49h-1.8M249.2,239.45h-1.8M249.2,225.37h-1.8M249.2,218.33h-1.8" stroke="#262626" stroke-width="0.7" fill="none"/>
<path d="M364.0,267.60h3.2M364.0,232.41h3.2M364.0,295.76h1.8M364.0,288.72h1.8M364.0,281.68h1.8M364.0,274.64h1.8M364.0,260.57h1.8M364.0,253.53h1.8M364.0,246.49h1.8M364.0,239.45h1.8M364.0,225.37h1.8M364.0,218.33h1.8" stroke="#262626" stroke-width="0.7" fill="none"/>
<text x="249.2" y="313.6" font-size="8.6" text-anchor="middle" fill="#1a1a1a" stroke="#1a1a1a" stroke-width="0.15" textLength="5.2" lengthAdjust="spacingAndGlyphs" >0</text>
<text x="285.075" y="313.6" font-size="8.6" text-anchor="middle" fill="#1a1a1a" stroke="#1a1a1a" stroke-width="0.15" textLength="9.6" lengthAdjust="spacingAndGlyphs" >10</text>
<text x="320.95" y="313.6" font-size="8.6" text-anchor="middle" fill="#1a1a1a" stroke="#1a1a1a" stroke-width="0.15" textLength="9.6" lengthAdjust="spacingAndGlyphs" >20</text>
<text x="356.825" y="313.6" font-size="8.6" text-anchor="middle" fill="#1a1a1a" stroke="#1a1a1a" stroke-width="0.15" textLength="9.6" lengthAdjust="spacingAndGlyphs" >30</text>
<text x="307.1" y="323.20000000000005" font-size="8.6" text-anchor="middle" fill="#1a1a1a" stroke="#1a1a1a" stroke-width="0.15" textLength="28.5" lengthAdjust="spacingAndGlyphs" >x (Mm)</text>
<path d="M281.0,234.4 L301.5,257.2" stroke="#c8c8c8" stroke-width="0.9"/>
<polygon points="301.5,257.2 298.03,255.66 300.33,253.58" fill="#c8c8c8"/>
<rect x="260.0" y="227.0" width="21.6" height="7.4" rx="1.2" fill="#d6d6d6" stroke="#eeeeee" stroke-width="0.5"/>
<text x="270.8" y="232.5" font-size="5.8" text-anchor="middle" fill="#2a2a2a" stroke="#2a2a2a" stroke-width="0.05" textLength="19" lengthAdjust="spacingAndGlyphs" >Dark jet</text>
<rect x="334.3" y="217.0" width="25.2" height="10.8" rx="0.6" fill="#d0d0d0" stroke="#d8d8d8" stroke-width="0.6"/>
<text x="346.90000000000003" y="225.20000000000002" font-size="8.4" text-anchor="middle" fill="#1a1a1a" stroke="#1a1a1a" stroke-width="0.15" textLength="20.9" lengthAdjust="spacingAndGlyphs" >193 Å</text>
<text x="243.4" y="235.5116260801257" font-size="8.6" text-anchor="end" fill="#1a1a1a" stroke="#1a1a1a" stroke-width="0.15" textLength="9.8" lengthAdjust="spacingAndGlyphs" >20</text>
<text x="243.4" y="270.7040848389631" font-size="8.6" text-anchor="end" fill="#1a1a1a" stroke="#1a1a1a" stroke-width="0.15" textLength="9.8" lengthAdjust="spacingAndGlyphs" >10</text>
<text transform="translate(229.2,257.2) rotate(-90)" font-size="9.2" text-anchor="middle" fill="#1a1a1a" stroke="#1a1a1a" stroke-width="0.15" textLength="27.6" lengthAdjust="spacingAndGlyphs">z (Mm)</text>
<text x="372.8" y="187.0" font-size="8.2" text-anchor="start" fill="#1a1a1a" stroke="#1a1a1a" stroke-width="0.15" textLength="11.5" lengthAdjust="spacingAndGlyphs" >(g)</text>
<text x="386.5" y="186.6" font-size="10.2" text-anchor="start" fill="#1a1a1a" stroke="#1a1a1a" stroke-width="0.15" textLength="93.0" lengthAdjust="spacingAndGlyphs" >Synth. SolO/EUI-HRI</text>
<text x="373.5" y="195.9" font-size="9.0" fill="#1a1a1a" stroke="#1a1a1a" stroke-width="0.15"><tspan textLength="9.9" lengthAdjust="spacingAndGlyphs">10</tspan><tspan font-size="6.30" dy="-3.4">2</tspan></text>
<text x="461.2" y="195.9" font-size="9.0" fill="#1a1a1a" stroke="#1a1a1a" stroke-width="0.15"><tspan textLength="9.9" lengthAdjust="spacingAndGlyphs">10</tspan><tspan font-size="6.30" dy="-3.4">3</tspan></text>
<defs><linearGradient id="cbg" x1="0" x2="1" y1="0" y2="0"><stop offset="0" stop-color="#000000"/><stop offset="0.25" stop-color="#2e1e00"/><stop offset="0.5" stop-color="#9c6800"/><stop offset="0.72" stop-color="#f0a400"/><stop offset="0.88" stop-color="#ffd878"/><stop offset="1" stop-color="#ffffff"/></linearGradient></defs>
<rect x="373.0" y="203.0" width="114.60000000000002" height="6.0" fill="url(#cbg)" stroke="#262626" stroke-width="0.8"/>
<path d="M379.00,203.0v-3M468.00,203.0v-3M374.93,203.0v-1.6M405.79,203.0v-1.6M421.46,203.0v-1.6M432.58,203.0v-1.6M441.21,203.0v-1.6M448.26,203.0v-1.6M454.21,203.0v-1.6M459.38,203.0v-1.6M463.93,203.0v-1.6" stroke="#262626" stroke-width="0.6" fill="none"/>
<defs><clipPath id="clipg"><rect x="373" y="212" width="114.6" height="89.6"/></clipPath><linearGradient id="gbg" x1="0" x2="0" y1="0" y2="1"><stop offset="0" stop-color="#000"/><stop offset="0.33" stop-color="#000"/><stop offset="0.56" stop-color="#221800"/><stop offset="0.8" stop-color="#423000"/><stop offset="1" stop-color="#544000"/></linearGradient><radialGradient id="gdome" cx="0.5" cy="1" r="0.78"><stop offset="0" stop-color="#ffffff"/><stop offset="0.3" stop-color="#ffe8a0"/><stop offset="0.6" stop-color="#ffb820"/><stop offset="0.9" stop-color="#e89000"/><stop offset="1" stop-color="#c07800"/></radialGradient></defs>
<g clip-path="url(#clipg)">
<rect x="373" y="212" width="116" height="90" fill="url(#gbg)"/>
<g filter="url(#b2)" opacity="0.7"><path d="M380,302 L386,250 L392,302z" fill="#2a1e00"/><path d="M396,302 L402,246 L408,302z" fill="#3a2a00"/><path d="M414,302 L419,240 L424,302z" fill="#3a2800"/><path d="M430,302 L436,244 L442,302z" fill="#3a2a00"/><path d="M448,302 L454,250 L460,302z" fill="#332400"/><path d="M466,302 L472,252 L478,302z" fill="#2e2000"/></g>
<g filter="url(#b05)"><path d="M384,298 A38,26 0 0 1 460,298z" fill="#d08800"/></g>
<g filter="url(#b05)" fill="none" stroke-linecap="round" opacity="0.8"><path d="M386.5,297 A35.5,23.5 0 0 1 457.5,297" stroke="#f4ac14" stroke-width="2.0"/><path d="M392,297 Q398,285 412,281 Q426,280 432,290" stroke="#f4b020" stroke-width="1.6"/><path d="M404,297 Q410,288 422,285 Q436,284 444,296" stroke="#f8c030" stroke-width="1.4"/><path d="M420,280 Q432,277 446,284" stroke="#e89a00" stroke-width="1.2"/></g>
<g filter="url(#b05)" fill="none" stroke="#9a5c00" stroke-width="1.3" opacity="0.55"><path d="M391,297 A31,21 0 0 1 453,297"/><path d="M398,297 Q404,284 418,281"/><path d="M428,280 Q444,281 450,292"/></g>
<g filter="url(#b15)"><ellipse cx="424" cy="292.5" rx="27" ry="6" fill="#ffe28a"/><ellipse cx="428" cy="294.5" rx="20" ry="3.2" fill="#ffffff"/><ellipse cx="441" cy="289" rx="6" ry="5" fill="#fff4d0" opacity="0.8"/></g>
<path d="M435,296 Q436,284 442,283 Q448,285 448,296" stroke="#fff0c0" stroke-width="1.2" fill="none" opacity="0.85" filter="url(#b05)"/>
<path d="M422,246 L424,246 L424,268 L422,270z" fill="#0a0600" opacity="0.5" filter="url(#b1)"/>
<polygon points="373.0,297.4 373.0,297.2 376.0,297.1 379.0,297.2 382.0,296.7 385.0,297.2 388.0,297.1 391.0,297.2 394.0,296.9 397.0,297.0 400.0,296.8 403.0,296.7 406.0,297.3 409.0,297.1 412.0,297.0 415.0,297.1 418.0,296.9 421.0,297.2 424.0,296.8 427.0,296.6 430.0,296.7 433.0,297.2 436.0,297.3 439.0,297.3 442.0,296.8 445.0,296.7 448.0,297.4 451.0,297.0 454.0,296.6 457.0,297.1 460.0,296.7 463.0,297.1 466.0,297.2 469.0,297.3 472.0,296.9 475.0,297.4 478.0,297.3 481.0,297.0 484.0,297.3 487.0,297.4 488.0,297.3 488.0,302.0 373.0,302.0" fill="#000"/>
</g>
<rect x="373.0" y="212.0" width="114.60000000000002" height="89.60000000000002" fill="none" stroke="#262626" stroke-width="0.9"/>
<path d="M373.00,301.6v3.2M408.81,301.6v3.2M444.62,301.6v3.2M480.44,301.6v3.2M380.16,301.6v1.8M387.32,301.6v1.8M394.49,301.6v1.8M401.65,301.6v1.8M415.98,301.6v1.8M423.14,301.6v1.8M430.30,301.6v1.8M437.46,301.6v1.8M451.79,301.6v1.8M458.95,301.6v1.8M466.11,301.6v1.8M473.28,301.6v1.8M487.60,301.6v1.8" stroke="#262626" stroke-width="0.7" fill="none"/>
<path d="M373.0,267.60h-3.2M373.0,232.41h-3.2M373.0,295.76h-1.8M373.0,288.72h-1.8M373.0,281.68h-1.8M373.0,274.64h-1.8M373.0,260.57h-1.8M373.0,253.53h-1.8M373.0,246.49h-1.8M373.0,239.45h-1.8M373.0,225.37h-1.8M373.0,218.33h-1.8" stroke="#262626" stroke-width="0.7" fill="none"/>
<path d="M487.6,267.60h3.2M487.6,232.41h3.2M487.6,295.76h1.8M487.6,288.72h1.8M487.6,281.68h1.8M487.6,274.64h1.8M487.6,260.57h1.8M487.6,253.53h1.8M487.6,246.49h1.8M487.6,239.45h1.8M487.6,225.37h1.8M487.6,218.33h1.8" stroke="#262626" stroke-width="0.7" fill="none"/>
<text x="373.0" y="313.6" font-size="8.6" text-anchor="middle" fill="#1a1a1a" stroke="#1a1a1a" stroke-width="0.15" textLength="5.2" lengthAdjust="spacingAndGlyphs" >0</text>
<text x="408.8125" y="313.6" font-size="8.6" text-anchor="middle" fill="#1a1a1a" stroke="#1a1a1a" stroke-width="0.15" textLength="9.6" lengthAdjust="spacingAndGlyphs" >10</text>
<text x="444.625" y="313.6" font-size="8.6" text-anchor="middle" fill="#1a1a1a" stroke="#1a1a1a" stroke-width="0.15" textLength="9.6" lengthAdjust="spacingAndGlyphs" >20</text>
<text x="480.4375" y="313.6" font-size="8.6" text-anchor="middle" fill="#1a1a1a" stroke="#1a1a1a" stroke-width="0.15" textLength="9.6" lengthAdjust="spacingAndGlyphs" >30</text>
<text x="430.8" y="323.20000000000005" font-size="8.6" text-anchor="middle" fill="#1a1a1a" stroke="#1a1a1a" stroke-width="0.15" textLength="28.5" lengthAdjust="spacingAndGlyphs" >x (Mm)</text>
<path d="M404.8,234.4 L425.0,257.2" stroke="#c8c8c8" stroke-width="0.9"/>
<polygon points="425.0,257.2 421.54,255.63 423.86,253.58" fill="#c8c8c8"/>
<rect x="383.8" y="227.0" width="21.6" height="7.4" rx="1.2" fill="#d6d6d6" stroke="#eeeeee" stroke-width="0.5"/>
<text x="394.6" y="232.5" font-size="5.8" text-anchor="middle" fill="#2a2a2a" stroke="#2a2a2a" stroke-width="0.05" textLength="19" lengthAdjust="spacingAndGlyphs" >Dark jet</text>
<rect x="457.7" y="217.0" width="25.2" height="10.8" rx="0.6" fill="#d0d0d0" stroke="#d8d8d8" stroke-width="0.6"/>
<text x="470.3" y="225.20000000000002" font-size="8.4" text-anchor="middle" fill="#1a1a1a" stroke="#1a1a1a" stroke-width="0.15" textLength="20.9" lengthAdjust="spacingAndGlyphs" >174 Å</text>
<text x="496.8" y="187.0" font-size="8.2" text-anchor="start" fill="#1a1a1a" stroke="#1a1a1a" stroke-width="0.15" textLength="10.9" lengthAdjust="spacingAndGlyphs" >(h)</text>
<text x="514.6" y="186.6" font-size="10.2" text-anchor="start" fill="#1a1a1a" stroke="#1a1a1a" stroke-width="0.15" textLength="86.9" lengthAdjust="spacingAndGlyphs" >Synth. Hinode/XRT</text>
<text x="507.7" y="195.9" font-size="9.0" fill="#1a1a1a" stroke="#1a1a1a" stroke-width="0.15"><tspan textLength="9.9" lengthAdjust="spacingAndGlyphs">10</tspan><tspan font-size="6.30" dy="-3.4">1</tspan></text>
<text x="564.7" y="195.9" font-size="9.0" fill="#1a1a1a" stroke="#1a1a1a" stroke-width="0.15"><tspan textLength="9.9" lengthAdjust="spacingAndGlyphs">10</tspan><tspan font-size="6.30" dy="-3.4">2</tspan></text>
<defs><linearGradient id="cbh" x1="0" x2="1" y1="0" y2="0"><stop offset="0" stop-color="#ffffff"/><stop offset="1" stop-color="#000000"/></linearGradient></defs>
<rect x="496.4" y="203.0" width="114.60000000000002" height="6.0" fill="url(#cbh)" stroke="#262626" stroke-width="0.8"/>
<path d="M513.90,203.0v-3M571.00,203.0v-3M501.23,203.0v-1.6M505.06,203.0v-1.6M508.37,203.0v-1.6M511.29,203.0v-1.6M531.09,203.0v-1.6M541.14,203.0v-1.6M548.28,203.0v-1.6M553.81,203.0v-1.6M558.33,203.0v-1.6M562.16,203.0v-1.6M565.47,203.0v-1.6M568.39,203.0v-1.6M588.19,203.0v-1.6M598.24,203.0v-1.6M605.38,203.0v-1.6" stroke="#262626" stroke-width="0.6" fill="none"/>
<defs><clipPath id="cliph"><rect x="496.4" y="212" width="114.6" height="89.6"/></clipPath></defs>
<g clip-path="url(#cliph)">
<rect x="496" y="212" width="116" height="90" fill="#ffffff"/>
<g filter="url(#b2)"><path d="M510,296 Q516,278 540,274 Q566,273 578,288 Q582,296 570,297 L520,297 Q510,298 510,296z" fill="#dcdcdc"/></g>
<g filter="url(#b2)"><path d="M513,294 Q526,283 546,280 Q562,279 572,287 Q572,295 556,295 Q530,296 513,296z" fill="#a0a0a0"/><path d="M530,286 Q542,279 556,280 Q548,286 540,290z" fill="#909090" opacity="0.8"/></g>
<g filter="url(#b2)"><ellipse cx="559" cy="289.5" rx="10" ry="7" fill="#3a3a3a"/></g>
<g filter="url(#b1)"><ellipse cx="561" cy="291" rx="5" ry="4.5" fill="#000"/></g>
</g>
<rect x="496.4" y="212.0" width="114.60000000000002" height="89.60000000000002" fill="none" stroke="#262626" stroke-width="0.9"/>
<path d="M496.40,301.6v3.2M532.21,301.6v3.2M568.02,301.6v3.2M603.84,301.6v3.2M503.56,301.6v1.8M510.72,301.6v1.8M517.89,301.6v1.8M525.05,301.6v1.8M539.38,301.6v1.8M546.54,301.6v1.8M553.70,301.6v1.8M560.86,301.6v1.8M575.19,301.6v1.8M582.35,301.6v1.8M589.51,301.6v1.8M596.67,301.6v1.8M611.00,301.6v1.8" stroke="#262626" stroke-width="0.7" fill="none"/>
<path d="M496.4,267.60h-3.2M496.4,232.41h-3.2M496.4,295.76h-1.8M496.4,288.72h-1.8M496.4,281.68h-1.8M496.4,274.64h-1.8M496.4,260.57h-1.8M496.4,253.53h-1.8M496.4,246.49h-1.8M496.4,239.45h-1.8M496.4,225.37h-1.8M496.4,218.33h-1.8" stroke="#262626" stroke-width="0.7" fill="none"/>
<path d="M611.0,267.60h3.2M611.0,232.41h3.2M611.0,295.76h1.8M611.0,288.72h1.8M611.0,281.68h1.8M611.0,274.64h1.8M611.0,260.57h1.8M611.0,253.53h1.8M611.0,246.49h1.8M611.0,239.45h1.8M611.0,225.37h1.8M611.0,218.33h1.8" stroke="#262626" stroke-width="0.7" fill="none"/>
<text x="496.4" y="313.6" font-size="8.6" text-anchor="middle" fill="#1a1a1a" stroke="#1a1a1a" stroke-width="0.15" textLength="5.2" lengthAdjust="spacingAndGlyphs" >0</text>
<text x="532.2125" y="313.6" font-size="8.6" text-anchor="middle" fill="#1a1a1a" stroke="#1a1a1a" stroke-width="0.15" textLength="9.6" lengthAdjust="spacingAndGlyphs" >10</text>
<text x="568.025" y="313.6" font-size="8.6" text-anchor="middle" fill="#1a1a1a" stroke="#1a1a1a" stroke-width="0.15" textLength="9.6" lengthAdjust="spacingAndGlyphs" >20</text>
<text x="603.8375" y="313.6" font-size="8.6" text-anchor="middle" fill="#1a1a1a" stroke="#1a1a1a" stroke-width="0.15" textLength="9.6" lengthAdjust="spacingAndGlyphs" >30</text>
<text x="554.2" y="323.20000000000005" font-size="8.6" text-anchor="middle" fill="#1a1a1a" stroke="#1a1a1a" stroke-width="0.15" textLength="28.5" lengthAdjust="spacingAndGlyphs" >x (Mm)</text>
<rect x="577.4" y="217.2" width="29.4" height="11.1" rx="0.6" fill="#ffffff" stroke="#c4c4c4" stroke-width="0.6"/>
<text x="592.1" y="225.7" font-size="8.4" text-anchor="middle" fill="#1a1a1a" stroke="#1a1a1a" stroke-width="0.15" textLength="25.3" lengthAdjust="spacingAndGlyphs" >Al-poly</text>
<text x="620.3" y="187.0" font-size="8.2" text-anchor="start" fill="#1a1a1a" stroke="#1a1a1a" stroke-width="0.15" textLength="8.1" lengthAdjust="spacingAndGlyphs" >(i)</text>
<text x="645.5" y="186.6" font-size="10.2" text-anchor="start" fill="#1a1a1a" stroke="#1a1a1a" stroke-width="0.15" textLength="65.9" lengthAdjust="spacingAndGlyphs" >Synth. IRIS/SJI</text>
<text x="644.6" y="195.9" font-size="9.0" fill="#1a1a1a" stroke="#1a1a1a" stroke-width="0.15"><tspan textLength="9.9" lengthAdjust="spacingAndGlyphs">10</tspan><tspan font-size="6.30" dy="-3.4">1</tspan></text>
<text x="706.6" y="195.9" font-size="9.0" fill="#1a1a1a" stroke="#1a1a1a" stroke-width="0.15"><tspan textLength="9.9" lengthAdjust="spacingAndGlyphs">10</tspan><tspan font-size="6.30" dy="-3.4">3</tspan></text>
<defs><linearGradient id="cbi" x1="0" x2="1" y1="0" y2="0"><stop offset="0" stop-color="#000000"/><stop offset="0.22" stop-color="#4a0600"/><stop offset="0.45" stop-color="#962a0e"/><stop offset="0.7" stop-color="#c86848"/><stop offset="0.88" stop-color="#ecb8a8"/><stop offset="1" stop-color="#ffffff"/></linearGradient></defs>
<rect x="620.1" y="202.8" width="114.60000000000002" height="6.299999999999983" fill="url(#cbi)" stroke="#262626" stroke-width="0.8"/>
<path d="M651.30,202.8v-3M713.30,202.8v-3" stroke="#262626" stroke-width="0.6" fill="none"/>
<defs><clipPath id="clipi"><rect x="620.1" y="212" width="114.6" height="89.6"/></clipPath></defs>
<defs><linearGradient id="iarc" x1="0" x2="0" y1="0" y2="1"><stop offset="0" stop-color="#8a2c16"/><stop offset="0.6" stop-color="#a84a30"/><stop offset="1" stop-color="#d88a70"/></linearGradient></defs>
<g clip-path="url(#clipi)">
<rect x="620" y="212" width="116" height="90" fill="#000"/>
<defs><linearGradient id="iglow" x1="0" x2="0" y1="0" y2="1"><stop offset="0" stop-color="#5a1808"/><stop offset="0.6" stop-color="#9a3c22"/><stop offset="1" stop-color="#e0a088"/></linearGradient></defs>
<g filter="url(#b05)"><path d="M636,296 Q646,279 664,279.5 Q678,281 681,294 L676.5,294 Q672,284.5 662,284 Q650,285 642,296z" fill="url(#iarc)" opacity="0.95"/><path d="M671,296 Q672,276 690,274.5 Q706,277 714,296z" fill="url(#iglow)" opacity="0.9"/><path d="M671,296 Q672,276 690,274.5 Q706,277 714,296 L709.5,296 Q701,280 690,278.5 Q677,280 675.5,296z" fill="url(#iarc)"/></g>
<g fill="none" stroke-linecap="round" filter="url(#b03)"><path d="M637.5,295 Q647,280 664,280.3 Q677,282 680,292" stroke="#e09078" stroke-width="0.7" opacity="0.9"/><path d="M672.5,292 Q674,276.5 690,275.2 Q705,278 712.5,295" stroke="#e09078" stroke-width="0.7" opacity="0.9"/><path d="M683,296 Q682,287 688,286 Q695,287.5 695,296" stroke="#f4c8b8" stroke-width="0.9" opacity="0.85"/><path d="M678,296 Q680,283 690,282 Q700,284 704,296" stroke="#c86850" stroke-width="0.8" opacity="0.8"/><path d="M666,296 Q668,288 676,288" stroke="#d88a70" stroke-width="0.8" opacity="0.8"/></g>
<path d="M620,296.5 L735,296.5" stroke="#c06a54" stroke-width="2.4" filter="url(#b03)"/>
<path d="M620,295.6 L735,295.6" stroke="#e8b4a4" stroke-width="0.9" opacity="0.8" filter="url(#b03)"/>
<g filter="url(#b1)"><ellipse cx="682" cy="296" rx="10" ry="2" fill="#ffffff"/><ellipse cx="690" cy="293" rx="6" ry="2.5" fill="#f0c0b0" opacity="0.7"/></g>
<polygon points="620.0,298.4 620.0,298.2 623.0,298.3 626.0,297.8 629.0,298.0 632.0,298.2 635.0,298.2 638.0,297.8 641.0,298.4 644.0,297.9 647.0,298.3 650.0,297.9 653.0,297.8 656.0,297.6 659.0,298.3 662.0,297.6 665.0,298.1 668.0,298.3 671.0,298.3 674.0,298.0 677.0,297.9 680.0,297.7 683.0,298.1 686.0,298.0 689.0,297.9 692.0,298.2 695.0,298.0 698.0,297.8 701.0,297.9 704.0,297.7 707.0,298.0 710.0,298.3 713.0,298.3 716.0,297.9 719.0,298.0 722.0,298.1 725.0,298.3 728.0,298.3 731.0,298.4 734.0,297.9 735.0,298.3 735.0,302.0 620.0,302.0" fill="#000"/>
</g>
<rect x="620.1" y="212.0" width="114.60000000000002" height="89.60000000000002" fill="none" stroke="#262626" stroke-width="0.9"/>
<path d="M620.10,301.6v3.2M655.91,301.6v3.2M691.73,301.6v3.2M727.54,301.6v3.2M627.26,301.6v1.8M634.43,301.6v1.8M641.59,301.6v1.8M648.75,301.6v1.8M663.08,301.6v1.8M670.24,301.6v1.8M677.40,301.6v1.8M684.56,301.6v1.8M698.89,301.6v1.8M706.05,301.6v1.8M713.21,301.6v1.8M720.38,301.6v1.8M734.70,301.6v1.8" stroke="#262626" stroke-width="0.7" fill="none"/>
<path d="M620.1,267.60h-3.2M620.1,232.41h-3.2M620.1,295.76h-1.8M620.1,288.72h-1.8M620.1,281.68h-1.8M620.1,274.64h-1.8M620.1,260.57h-1.8M620.1,253.53h-1.8M620.1,246.49h-1.8M620.1,239.45h-1.8M620.1,225.37h-1.8M620.1,218.33h-1.8" stroke="#262626" stroke-width="0.7" fill="none"/>
<path d="M734.7,267.60h3.2M734.7,232.41h3.2M734.7,295.76h1.8M734.7,288.72h1.8M734.7,281.68h1.8M734.7,274.64h1.8M734.7,260.57h1.8M734.7,253.53h1.8M734.7,246.49h1.8M734.7,239.45h1.8M734.7,225.37h1.8M734.7,218.33h1.8" stroke="#262626" stroke-width="0.7" fill="none"/>
<text x="620.1" y="313.6" font-size="8.6" text-anchor="middle" fill="#1a1a1a" stroke="#1a1a1a" stroke-width="0.15" textLength="5.2" lengthAdjust="spacingAndGlyphs" >0</text>
<text x="655.9125" y="313.6" font-size="8.6" text-anchor="middle" fill="#1a1a1a" stroke="#1a1a1a" stroke-width="0.15" textLength="9.6" lengthAdjust="spacingAndGlyphs" >10</text>
<text x="691.725" y="313.6" font-size="8.6" text-anchor="middle" fill="#1a1a1a" stroke="#1a1a1a" stroke-width="0.15" textLength="9.6" lengthAdjust="spacingAndGlyphs" >20</text>
<text x="727.5375" y="313.6" font-size="8.6" text-anchor="middle" fill="#1a1a1a" stroke="#1a1a1a" stroke-width="0.15" textLength="9.6" lengthAdjust="spacingAndGlyphs" >30</text>
<text x="677.9000000000001" y="323.20000000000005" font-size="8.6" text-anchor="middle" fill="#1a1a1a" stroke="#1a1a1a" stroke-width="0.15" textLength="28.5" lengthAdjust="spacingAndGlyphs" >x (Mm)</text>
<rect x="700.2" y="216.9" width="30.8" height="10.8" rx="0.6" fill="#d0d0d0" stroke="#d8d8d8" stroke-width="0.6"/>
<text x="715.6" y="225.10000000000002" font-size="8.4" text-anchor="middle" fill="#1a1a1a" stroke="#1a1a1a" stroke-width="0.15" textLength="25.9" lengthAdjust="spacingAndGlyphs" >1400 Å</text>
<text x="740.8" y="235.5116260801257" font-size="8.6" text-anchor="start" fill="#1a1a1a" stroke="#1a1a1a" stroke-width="0.15" textLength="9.8" lengthAdjust="spacingAndGlyphs" >20</text>
<text x="740.8" y="270.7040848389631" font-size="8.6" text-anchor="start" fill="#1a1a1a" stroke="#1a1a1a" stroke-width="0.15" textLength="9.8" lengthAdjust="spacingAndGlyphs" >10</text>
<text transform="translate(757.8,256.2) rotate(-90)" font-size="9.2" text-anchor="middle" fill="#1a1a1a" stroke="#1a1a1a" stroke-width="0.15" textLength="27.6" lengthAdjust="spacingAndGlyphs">z (Mm)</text>
</svg></body></html>
